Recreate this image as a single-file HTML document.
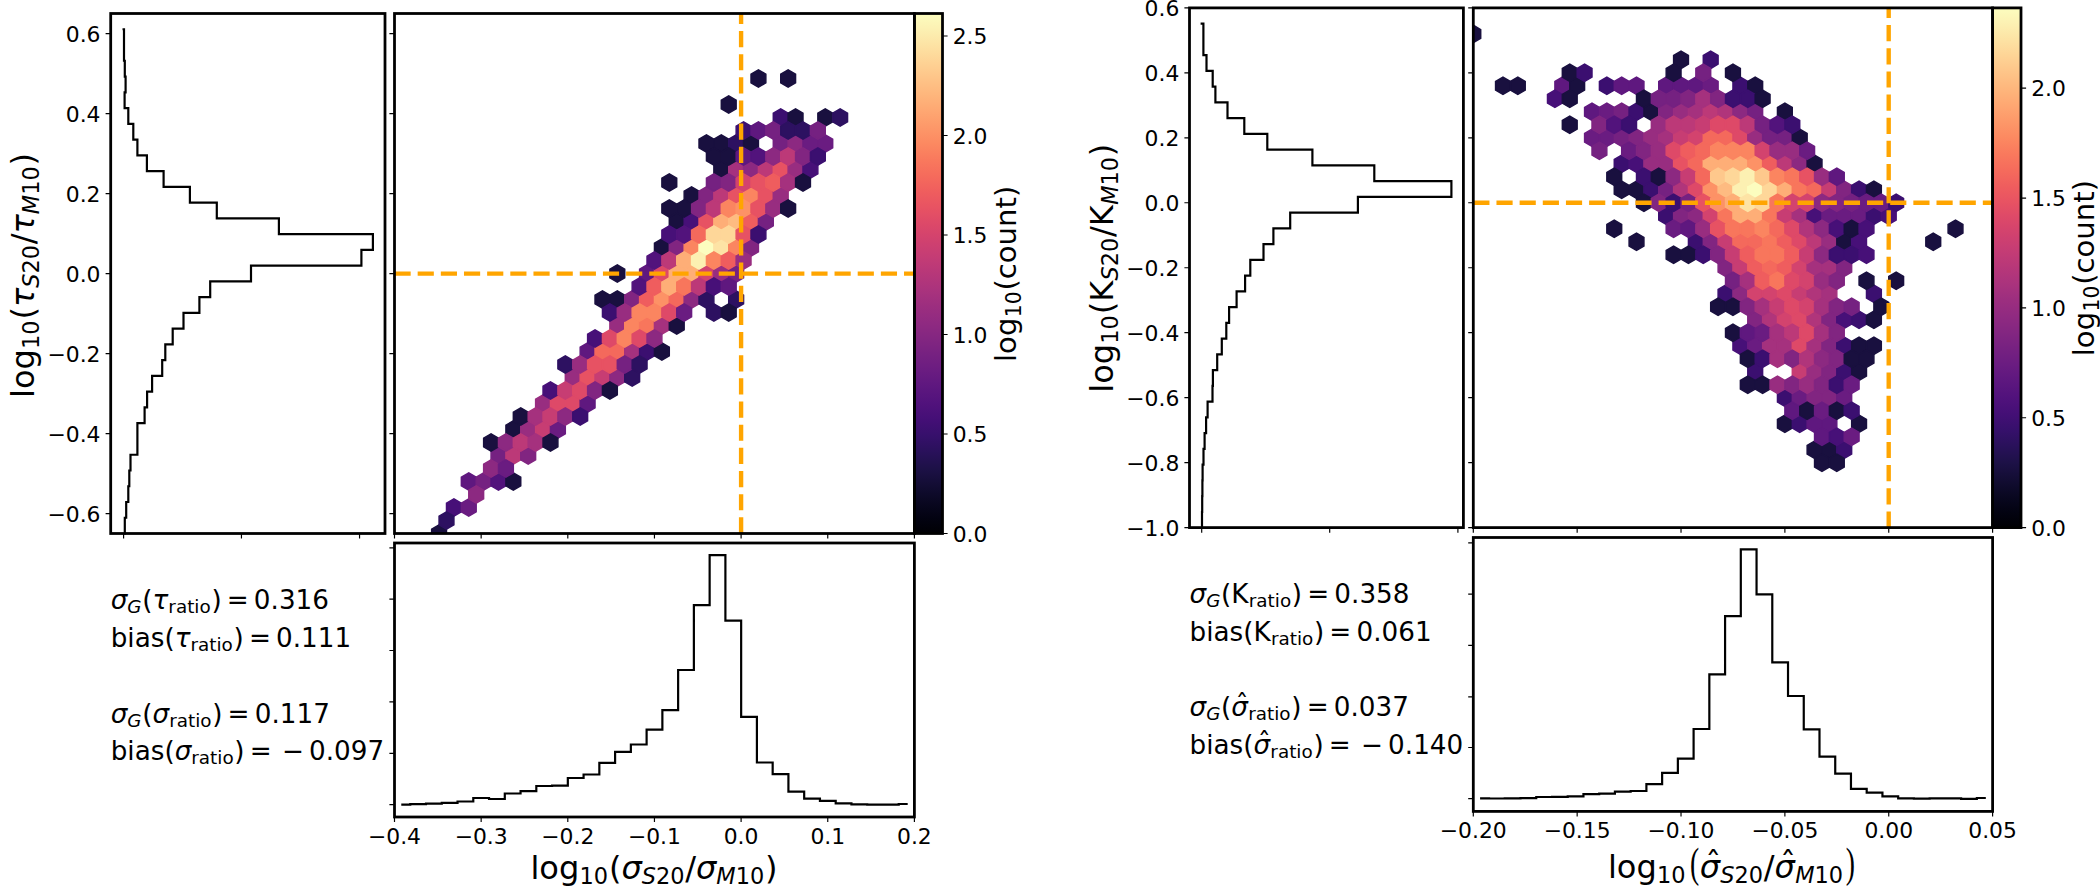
<!DOCTYPE html>
<html lang="en"><head><meta charset="utf-8"><title>Ratio comparison hexbin figure</title>
<style>html,body{margin:0;padding:0;background:#fff}body{width:2100px;height:890px;overflow:hidden}svg{display:block}</style></head>
<body>
<svg width="2100" height="890" viewBox="0 0 2100 890" font-family="'DejaVu Sans','Liberation Sans',sans-serif" fill="#000">
<defs><linearGradient id="mg" x1="0" y1="0" x2="0" y2="1"><stop offset="0.0000" stop-color="#fcfdbf"/><stop offset="0.0312" stop-color="#fcf0b2"/><stop offset="0.0625" stop-color="#fde2a3"/><stop offset="0.0938" stop-color="#fed395"/><stop offset="0.1250" stop-color="#fec488"/><stop offset="0.1562" stop-color="#feb67c"/><stop offset="0.1875" stop-color="#fea772"/><stop offset="0.2188" stop-color="#fd9869"/><stop offset="0.2500" stop-color="#fc8961"/><stop offset="0.2812" stop-color="#f9795d"/><stop offset="0.3125" stop-color="#f56b5c"/><stop offset="0.3438" stop-color="#ef5d5e"/><stop offset="0.3750" stop-color="#e75263"/><stop offset="0.4062" stop-color="#dc4869"/><stop offset="0.4375" stop-color="#d0416f"/><stop offset="0.4688" stop-color="#c43c75"/><stop offset="0.5000" stop-color="#b73779"/><stop offset="0.5312" stop-color="#aa337d"/><stop offset="0.5625" stop-color="#9c2e7f"/><stop offset="0.5938" stop-color="#902a81"/><stop offset="0.6250" stop-color="#832681"/><stop offset="0.6562" stop-color="#762181"/><stop offset="0.6875" stop-color="#6a1c81"/><stop offset="0.7188" stop-color="#5d177f"/><stop offset="0.7500" stop-color="#51127c"/><stop offset="0.7812" stop-color="#440f76"/><stop offset="0.8125" stop-color="#36106b"/><stop offset="0.8438" stop-color="#29115a"/><stop offset="0.8750" stop-color="#1d1147"/><stop offset="0.9062" stop-color="#130d34"/><stop offset="0.9375" stop-color="#0a0822"/><stop offset="0.9688" stop-color="#030312"/><stop offset="1.0000" stop-color="#000004"/></linearGradient></defs>
<rect width="2100" height="890" fill="#fff"/>
<clipPath id="c394"><rect x="394.5" y="13.5" width="519.9" height="520"/></clipPath>
<g clip-path="url(#c394)" stroke-width="1.46" stroke-linejoin="miter">
<polygon points="446.49,529.17 446.49,537.83 439.06,542.17 431.64,537.83 431.64,529.17 439.06,524.83" fill="#19103f" stroke="#19103f"/>
<polygon points="461.34,503.17 461.34,511.83 453.92,516.17 446.49,511.83 446.49,503.17 453.92,498.83" fill="#471078" stroke="#471078"/>
<polygon points="476.2,503.17 476.2,511.83 468.77,516.17 461.34,511.83 461.34,503.17 468.77,498.83" fill="#6a1c81" stroke="#6a1c81"/>
<polygon points="476.2,477.17 476.2,485.83 468.77,490.17 461.34,485.83 461.34,477.17 468.77,472.83" fill="#5f187f" stroke="#5f187f"/>
<polygon points="491.05,477.17 491.05,485.83 483.63,490.17 476.2,485.83 476.2,477.17 483.63,472.83" fill="#752181" stroke="#752181"/>
<polygon points="505.91,477.17 505.91,485.83 498.48,490.17 491.05,485.83 491.05,477.17 498.48,472.83" fill="#52137c" stroke="#52137c"/>
<polygon points="505.91,451.17 505.91,459.83 498.48,464.17 491.05,459.83 491.05,451.17 498.48,446.83" fill="#752181" stroke="#752181"/>
<polygon points="520.76,477.17 520.76,485.83 513.33,490.17 505.91,485.83 505.91,477.17 513.33,472.83" fill="#19103f" stroke="#19103f"/>
<polygon points="520.76,451.17 520.76,459.83 513.33,464.17 505.91,459.83 505.91,451.17 513.33,446.83" fill="#bc3978" stroke="#bc3978"/>
<polygon points="520.76,425.17 520.76,433.83 513.33,438.17 505.91,433.83 505.91,425.17 513.33,420.83" fill="#19103f" stroke="#19103f"/>
<polygon points="535.62,451.17 535.62,459.83 528.19,464.17 520.76,459.83 520.76,451.17 528.19,446.83" fill="#812581" stroke="#812581"/>
<polygon points="535.62,425.17 535.62,433.83 528.19,438.17 520.76,433.83 520.76,425.17 528.19,420.83" fill="#982d80" stroke="#982d80"/>
<polygon points="550.47,425.17 550.47,433.83 543.04,438.17 535.62,433.83 535.62,425.17 543.04,420.83" fill="#c73d73" stroke="#c73d73"/>
<polygon points="550.47,399.17 550.47,407.83 543.04,412.17 535.62,407.83 535.62,399.17 543.04,394.83" fill="#982d80" stroke="#982d80"/>
<polygon points="565.32,425.17 565.32,433.83 557.9,438.17 550.47,433.83 550.47,425.17 557.9,420.83" fill="#6a1c81" stroke="#6a1c81"/>
<polygon points="565.32,399.17 565.32,407.83 557.9,412.17 550.47,407.83 550.47,399.17 557.9,394.83" fill="#de4968" stroke="#de4968"/>
<polygon points="580.18,399.17 580.18,407.83 572.75,412.17 565.32,407.83 565.32,399.17 572.75,394.83" fill="#de4968" stroke="#de4968"/>
<polygon points="580.18,373.17 580.18,381.83 572.75,386.17 565.32,381.83 565.32,373.17 572.75,368.83" fill="#982d80" stroke="#982d80"/>
<polygon points="595.03,399.17 595.03,407.83 587.61,412.17 580.18,407.83 580.18,399.17 587.61,394.83" fill="#5f187f" stroke="#5f187f"/>
<polygon points="595.03,373.17 595.03,381.83 587.61,386.17 580.18,381.83 580.18,373.17 587.61,368.83" fill="#e75263" stroke="#e75263"/>
<polygon points="595.03,347.17 595.03,355.83 587.61,360.17 580.18,355.83 580.18,347.17 587.61,342.83" fill="#5f187f" stroke="#5f187f"/>
<polygon points="609.89,373.17 609.89,381.83 602.46,386.17 595.03,381.83 595.03,373.17 602.46,368.83" fill="#c73d73" stroke="#c73d73"/>
<polygon points="609.89,347.17 609.89,355.83 602.46,360.17 595.03,355.83 595.03,347.17 602.46,342.83" fill="#f4695c" stroke="#f4695c"/>
<polygon points="609.89,295.17 609.89,303.83 602.46,308.17 595.03,303.83 595.03,295.17 602.46,290.83" fill="#19103f" stroke="#19103f"/>
<polygon points="624.74,373.17 624.74,381.83 617.31,386.17 609.89,381.83 609.89,373.17 617.31,368.83" fill="#8c2981" stroke="#8c2981"/>
<polygon points="624.74,347.17 624.74,355.83 617.31,360.17 609.89,355.83 609.89,347.17 617.31,342.83" fill="#f4695c" stroke="#f4695c"/>
<polygon points="624.74,321.17 624.74,329.83 617.31,334.17 609.89,329.83 609.89,321.17 617.31,316.83" fill="#982d80" stroke="#982d80"/>
<polygon points="624.74,295.17 624.74,303.83 617.31,308.17 609.89,303.83 609.89,295.17 617.31,290.83" fill="#19103f" stroke="#19103f"/>
<polygon points="624.74,269.17 624.74,277.83 617.31,282.17 609.89,277.83 609.89,269.17 617.31,264.83" fill="#19103f" stroke="#19103f"/>
<polygon points="639.6,373.17 639.6,381.83 632.17,386.17 624.74,381.83 624.74,373.17 632.17,368.83" fill="#2d1161" stroke="#2d1161"/>
<polygon points="639.6,347.17 639.6,355.83 632.17,360.17 624.74,355.83 624.74,347.17 632.17,342.83" fill="#a5317e" stroke="#a5317e"/>
<polygon points="639.6,321.17 639.6,329.83 632.17,334.17 624.74,329.83 624.74,321.17 632.17,316.83" fill="#fb8560" stroke="#fb8560"/>
<polygon points="639.6,295.17 639.6,303.83 632.17,308.17 624.74,303.83 624.74,295.17 632.17,290.83" fill="#812581" stroke="#812581"/>
<polygon points="654.45,347.17 654.45,355.83 647.02,360.17 639.6,355.83 639.6,347.17 647.02,342.83" fill="#3b0f70" stroke="#3b0f70"/>
<polygon points="654.45,321.17 654.45,329.83 647.02,334.17 639.6,329.83 639.6,321.17 647.02,316.83" fill="#f8765c" stroke="#f8765c"/>
<polygon points="654.45,295.17 654.45,303.83 647.02,308.17 639.6,303.83 639.6,295.17 647.02,290.83" fill="#ef5d5e" stroke="#ef5d5e"/>
<polygon points="654.45,269.17 654.45,277.83 647.02,282.17 639.6,277.83 639.6,269.17 647.02,264.83" fill="#5f187f" stroke="#5f187f"/>
<polygon points="669.3,347.17 669.3,355.83 661.88,360.17 654.45,355.83 654.45,347.17 661.88,342.83" fill="#19103f" stroke="#19103f"/>
<polygon points="669.3,321.17 669.3,329.83 661.88,334.17 654.45,329.83 654.45,321.17 661.88,316.83" fill="#a5317e" stroke="#a5317e"/>
<polygon points="669.3,295.17 669.3,303.83 661.88,308.17 654.45,303.83 654.45,295.17 661.88,290.83" fill="#fd9266" stroke="#fd9266"/>
<polygon points="669.3,269.17 669.3,277.83 661.88,282.17 654.45,277.83 654.45,269.17 661.88,264.83" fill="#de4968" stroke="#de4968"/>
<polygon points="669.3,243.17 669.3,251.83 661.88,256.17 654.45,251.83 654.45,243.17 661.88,238.83" fill="#19103f" stroke="#19103f"/>
<polygon points="684.16,321.17 684.16,329.83 676.73,334.17 669.3,329.83 669.3,321.17 676.73,316.83" fill="#19103f" stroke="#19103f"/>
<polygon points="684.16,295.17 684.16,303.83 676.73,308.17 669.3,303.83 669.3,295.17 676.73,290.83" fill="#f4695c" stroke="#f4695c"/>
<polygon points="684.16,269.17 684.16,277.83 676.73,282.17 669.3,277.83 669.3,269.17 676.73,264.83" fill="#feae77" stroke="#feae77"/>
<polygon points="684.16,243.17 684.16,251.83 676.73,256.17 669.3,251.83 669.3,243.17 676.73,238.83" fill="#812581" stroke="#812581"/>
<polygon points="684.16,217.17 684.16,225.83 676.73,230.17 669.3,225.83 669.3,217.17 676.73,212.83" fill="#19103f" stroke="#19103f"/>
<polygon points="699.01,295.17 699.01,303.83 691.59,308.17 684.16,303.83 684.16,295.17 691.59,290.83" fill="#8c2981" stroke="#8c2981"/>
<polygon points="699.01,269.17 699.01,277.83 691.59,282.17 684.16,277.83 684.16,269.17 691.59,264.83" fill="#feae77" stroke="#feae77"/>
<polygon points="699.01,243.17 699.01,251.83 691.59,256.17 684.16,251.83 684.16,243.17 691.59,238.83" fill="#fb8560" stroke="#fb8560"/>
<polygon points="699.01,217.17 699.01,225.83 691.59,230.17 684.16,225.83 684.16,217.17 691.59,212.83" fill="#471078" stroke="#471078"/>
<polygon points="699.01,191.17 699.01,199.83 691.59,204.17 684.16,199.83 684.16,191.17 691.59,186.83" fill="#19103f" stroke="#19103f"/>
<polygon points="713.87,295.17 713.87,303.83 706.44,308.17 699.01,303.83 699.01,295.17 706.44,290.83" fill="#2d1161" stroke="#2d1161"/>
<polygon points="713.87,269.17 713.87,277.83 706.44,282.17 699.01,277.83 699.01,269.17 706.44,264.83" fill="#d3436e" stroke="#d3436e"/>
<polygon points="713.87,243.17 713.87,251.83 706.44,256.17 699.01,251.83 699.01,243.17 706.44,238.83" fill="#fcfdbf" stroke="#fcfdbf"/>
<polygon points="713.87,217.17 713.87,225.83 706.44,230.17 699.01,225.83 699.01,217.17 706.44,212.83" fill="#e75263" stroke="#e75263"/>
<polygon points="713.87,191.17 713.87,199.83 706.44,204.17 699.01,199.83 699.01,191.17 706.44,186.83" fill="#812581" stroke="#812581"/>
<polygon points="713.87,139.17 713.87,147.83 706.44,152.17 699.01,147.83 699.01,139.17 706.44,134.83" fill="#19103f" stroke="#19103f"/>
<polygon points="728.72,269.17 728.72,277.83 721.29,282.17 713.87,277.83 713.87,269.17 721.29,264.83" fill="#982d80" stroke="#982d80"/>
<polygon points="728.72,243.17 728.72,251.83 721.29,256.17 713.87,251.83 713.87,243.17 721.29,238.83" fill="#fde3a5" stroke="#fde3a5"/>
<polygon points="728.72,217.17 728.72,225.83 721.29,230.17 713.87,225.83 713.87,217.17 721.29,212.83" fill="#feae77" stroke="#feae77"/>
<polygon points="728.72,191.17 728.72,199.83 721.29,204.17 713.87,199.83 713.87,191.17 721.29,186.83" fill="#bc3978" stroke="#bc3978"/>
<polygon points="728.72,165.17 728.72,173.83 721.29,178.17 713.87,173.83 713.87,165.17 721.29,160.83" fill="#19103f" stroke="#19103f"/>
<polygon points="728.72,139.17 728.72,147.83 721.29,152.17 713.87,147.83 713.87,139.17 721.29,134.83" fill="#19103f" stroke="#19103f"/>
<polygon points="743.58,295.17 743.58,303.83 736.15,308.17 728.72,303.83 728.72,295.17 736.15,290.83" fill="#2d1161" stroke="#2d1161"/>
<polygon points="743.58,269.17 743.58,277.83 736.15,282.17 728.72,277.83 728.72,269.17 736.15,264.83" fill="#752181" stroke="#752181"/>
<polygon points="743.58,243.17 743.58,251.83 736.15,256.17 728.72,251.83 728.72,243.17 736.15,238.83" fill="#fb8560" stroke="#fb8560"/>
<polygon points="743.58,217.17 743.58,225.83 736.15,230.17 728.72,225.83 728.72,217.17 736.15,212.83" fill="#febb81" stroke="#febb81"/>
<polygon points="743.58,191.17 743.58,199.83 736.15,204.17 728.72,199.83 728.72,191.17 736.15,186.83" fill="#e75263" stroke="#e75263"/>
<polygon points="743.58,165.17 743.58,173.83 736.15,178.17 728.72,173.83 728.72,165.17 736.15,160.83" fill="#a5317e" stroke="#a5317e"/>
<polygon points="743.58,139.17 743.58,147.83 736.15,152.17 728.72,147.83 728.72,139.17 736.15,134.83" fill="#2d1161" stroke="#2d1161"/>
<polygon points="758.43,243.17 758.43,251.83 751,256.17 743.58,251.83 743.58,243.17 751,238.83" fill="#812581" stroke="#812581"/>
<polygon points="758.43,217.17 758.43,225.83 751,230.17 743.58,225.83 743.58,217.17 751,212.83" fill="#ef5d5e" stroke="#ef5d5e"/>
<polygon points="758.43,191.17 758.43,199.83 751,204.17 743.58,199.83 743.58,191.17 751,186.83" fill="#fb8560" stroke="#fb8560"/>
<polygon points="758.43,165.17 758.43,173.83 751,178.17 743.58,173.83 743.58,165.17 751,160.83" fill="#8c2981" stroke="#8c2981"/>
<polygon points="758.43,139.17 758.43,147.83 751,152.17 743.58,147.83 743.58,139.17 751,134.83" fill="#19103f" stroke="#19103f"/>
<polygon points="773.28,217.17 773.28,225.83 765.86,230.17 758.43,225.83 758.43,217.17 765.86,212.83" fill="#752181" stroke="#752181"/>
<polygon points="773.28,191.17 773.28,199.83 765.86,204.17 758.43,199.83 758.43,191.17 765.86,186.83" fill="#e75263" stroke="#e75263"/>
<polygon points="773.28,165.17 773.28,173.83 765.86,178.17 758.43,173.83 758.43,165.17 765.86,160.83" fill="#bc3978" stroke="#bc3978"/>
<polygon points="788.14,191.17 788.14,199.83 780.71,204.17 773.28,199.83 773.28,191.17 780.71,186.83" fill="#982d80" stroke="#982d80"/>
<polygon points="788.14,165.17 788.14,173.83 780.71,178.17 773.28,173.83 773.28,165.17 780.71,160.83" fill="#e75263" stroke="#e75263"/>
<polygon points="788.14,139.17 788.14,147.83 780.71,152.17 773.28,147.83 773.28,139.17 780.71,134.83" fill="#752181" stroke="#752181"/>
<polygon points="788.14,113.17 788.14,121.83 780.71,126.17 773.28,121.83 773.28,113.17 780.71,108.83" fill="#3b0f70" stroke="#3b0f70"/>
<polygon points="802.99,165.17 802.99,173.83 795.57,178.17 788.14,173.83 788.14,165.17 795.57,160.83" fill="#982d80" stroke="#982d80"/>
<polygon points="802.99,139.17 802.99,147.83 795.57,152.17 788.14,147.83 788.14,139.17 795.57,134.83" fill="#8c2981" stroke="#8c2981"/>
<polygon points="802.99,113.17 802.99,121.83 795.57,126.17 788.14,121.83 788.14,113.17 795.57,108.83" fill="#19103f" stroke="#19103f"/>
<polygon points="817.85,165.17 817.85,173.83 810.42,178.17 802.99,173.83 802.99,165.17 810.42,160.83" fill="#471078" stroke="#471078"/>
<polygon points="817.85,139.17 817.85,147.83 810.42,152.17 802.99,147.83 802.99,139.17 810.42,134.83" fill="#6a1c81" stroke="#6a1c81"/>
<polygon points="832.7,139.17 832.7,147.83 825.27,152.17 817.85,147.83 817.85,139.17 825.27,134.83" fill="#6a1c81" stroke="#6a1c81"/>
<polygon points="832.7,113.17 832.7,121.83 825.27,126.17 817.85,121.83 817.85,113.17 825.27,108.83" fill="#19103f" stroke="#19103f"/>
<polygon points="847.56,113.17 847.56,121.83 840.13,126.17 832.7,121.83 832.7,113.17 840.13,108.83" fill="#2d1161" stroke="#2d1161"/>
<polygon points="453.92,516.17 453.92,524.83 446.49,529.17 439.06,524.83 439.06,516.17 446.49,511.83" fill="#2d1161" stroke="#2d1161"/>
<polygon points="483.63,490.17 483.63,498.83 476.2,503.17 468.77,498.83 468.77,490.17 476.2,485.83" fill="#8c2981" stroke="#8c2981"/>
<polygon points="498.48,464.17 498.48,472.83 491.05,477.17 483.63,472.83 483.63,464.17 491.05,459.83" fill="#8c2981" stroke="#8c2981"/>
<polygon points="498.48,438.17 498.48,446.83 491.05,451.17 483.63,446.83 483.63,438.17 491.05,433.83" fill="#19103f" stroke="#19103f"/>
<polygon points="513.33,464.17 513.33,472.83 505.91,477.17 498.48,472.83 498.48,464.17 505.91,459.83" fill="#6a1c81" stroke="#6a1c81"/>
<polygon points="513.33,438.17 513.33,446.83 505.91,451.17 498.48,446.83 498.48,438.17 505.91,433.83" fill="#8c2981" stroke="#8c2981"/>
<polygon points="528.19,438.17 528.19,446.83 520.76,451.17 513.33,446.83 513.33,438.17 520.76,433.83" fill="#bc3978" stroke="#bc3978"/>
<polygon points="528.19,412.17 528.19,420.83 520.76,425.17 513.33,420.83 513.33,412.17 520.76,407.83" fill="#19103f" stroke="#19103f"/>
<polygon points="543.04,438.17 543.04,446.83 535.62,451.17 528.19,446.83 528.19,438.17 535.62,433.83" fill="#a5317e" stroke="#a5317e"/>
<polygon points="543.04,412.17 543.04,420.83 535.62,425.17 528.19,420.83 528.19,412.17 535.62,407.83" fill="#a5317e" stroke="#a5317e"/>
<polygon points="557.9,438.17 557.9,446.83 550.47,451.17 543.04,446.83 543.04,438.17 550.47,433.83" fill="#19103f" stroke="#19103f"/>
<polygon points="557.9,412.17 557.9,420.83 550.47,425.17 543.04,420.83 543.04,412.17 550.47,407.83" fill="#c73d73" stroke="#c73d73"/>
<polygon points="557.9,386.17 557.9,394.83 550.47,399.17 543.04,394.83 543.04,386.17 550.47,381.83" fill="#471078" stroke="#471078"/>
<polygon points="572.75,412.17 572.75,420.83 565.32,425.17 557.9,420.83 557.9,412.17 565.32,407.83" fill="#8c2981" stroke="#8c2981"/>
<polygon points="572.75,386.17 572.75,394.83 565.32,399.17 557.9,394.83 557.9,386.17 565.32,381.83" fill="#c73d73" stroke="#c73d73"/>
<polygon points="572.75,360.17 572.75,368.83 565.32,373.17 557.9,368.83 557.9,360.17 565.32,355.83" fill="#2d1161" stroke="#2d1161"/>
<polygon points="587.61,412.17 587.61,420.83 580.18,425.17 572.75,420.83 572.75,412.17 580.18,407.83" fill="#3b0f70" stroke="#3b0f70"/>
<polygon points="587.61,386.17 587.61,394.83 580.18,399.17 572.75,394.83 572.75,386.17 580.18,381.83" fill="#de4968" stroke="#de4968"/>
<polygon points="587.61,360.17 587.61,368.83 580.18,373.17 572.75,368.83 572.75,360.17 580.18,355.83" fill="#982d80" stroke="#982d80"/>
<polygon points="602.46,386.17 602.46,394.83 595.03,399.17 587.61,394.83 587.61,386.17 595.03,381.83" fill="#812581" stroke="#812581"/>
<polygon points="602.46,360.17 602.46,368.83 595.03,373.17 587.61,368.83 587.61,360.17 595.03,355.83" fill="#e75263" stroke="#e75263"/>
<polygon points="602.46,334.17 602.46,342.83 595.03,347.17 587.61,342.83 587.61,334.17 595.03,329.83" fill="#471078" stroke="#471078"/>
<polygon points="617.31,386.17 617.31,394.83 609.89,399.17 602.46,394.83 602.46,386.17 609.89,381.83" fill="#19103f" stroke="#19103f"/>
<polygon points="617.31,360.17 617.31,368.83 609.89,373.17 602.46,368.83 602.46,360.17 609.89,355.83" fill="#e75263" stroke="#e75263"/>
<polygon points="617.31,334.17 617.31,342.83 609.89,347.17 602.46,342.83 602.46,334.17 609.89,329.83" fill="#de4968" stroke="#de4968"/>
<polygon points="617.31,308.17 617.31,316.83 609.89,321.17 602.46,316.83 602.46,308.17 609.89,303.83" fill="#3b0f70" stroke="#3b0f70"/>
<polygon points="632.17,360.17 632.17,368.83 624.74,373.17 617.31,368.83 617.31,360.17 624.74,355.83" fill="#752181" stroke="#752181"/>
<polygon points="632.17,334.17 632.17,342.83 624.74,347.17 617.31,342.83 617.31,334.17 624.74,329.83" fill="#fb8560" stroke="#fb8560"/>
<polygon points="632.17,308.17 632.17,316.83 624.74,321.17 617.31,316.83 617.31,308.17 624.74,303.83" fill="#982d80" stroke="#982d80"/>
<polygon points="647.02,360.17 647.02,368.83 639.6,373.17 632.17,368.83 632.17,360.17 639.6,355.83" fill="#2d1161" stroke="#2d1161"/>
<polygon points="647.02,334.17 647.02,342.83 639.6,347.17 632.17,342.83 632.17,334.17 639.6,329.83" fill="#de4968" stroke="#de4968"/>
<polygon points="647.02,308.17 647.02,316.83 639.6,321.17 632.17,316.83 632.17,308.17 639.6,303.83" fill="#fb8560" stroke="#fb8560"/>
<polygon points="647.02,282.17 647.02,290.83 639.6,295.17 632.17,290.83 632.17,282.17 639.6,277.83" fill="#52137c" stroke="#52137c"/>
<polygon points="661.88,334.17 661.88,342.83 654.45,347.17 647.02,342.83 647.02,334.17 654.45,329.83" fill="#8c2981" stroke="#8c2981"/>
<polygon points="661.88,308.17 661.88,316.83 654.45,321.17 647.02,316.83 647.02,308.17 654.45,303.83" fill="#fb8560" stroke="#fb8560"/>
<polygon points="661.88,282.17 661.88,290.83 654.45,295.17 647.02,290.83 647.02,282.17 654.45,277.83" fill="#ef5d5e" stroke="#ef5d5e"/>
<polygon points="661.88,256.17 661.88,264.83 654.45,269.17 647.02,264.83 647.02,256.17 654.45,251.83" fill="#52137c" stroke="#52137c"/>
<polygon points="676.73,308.17 676.73,316.83 669.3,321.17 661.88,316.83 661.88,308.17 669.3,303.83" fill="#de4968" stroke="#de4968"/>
<polygon points="676.73,282.17 676.73,290.83 669.3,295.17 661.88,290.83 661.88,282.17 669.3,277.83" fill="#feae77" stroke="#feae77"/>
<polygon points="676.73,256.17 676.73,264.83 669.3,269.17 661.88,264.83 661.88,256.17 669.3,251.83" fill="#bc3978" stroke="#bc3978"/>
<polygon points="676.73,230.17 676.73,238.83 669.3,243.17 661.88,238.83 661.88,230.17 669.3,225.83" fill="#471078" stroke="#471078"/>
<polygon points="676.73,204.17 676.73,212.83 669.3,217.17 661.88,212.83 661.88,204.17 669.3,199.83" fill="#19103f" stroke="#19103f"/>
<polygon points="676.73,178.17 676.73,186.83 669.3,191.17 661.88,186.83 661.88,178.17 669.3,173.83" fill="#19103f" stroke="#19103f"/>
<polygon points="691.59,308.17 691.59,316.83 684.16,321.17 676.73,316.83 676.73,308.17 684.16,303.83" fill="#6a1c81" stroke="#6a1c81"/>
<polygon points="691.59,282.17 691.59,290.83 684.16,295.17 676.73,290.83 676.73,282.17 684.16,277.83" fill="#f8765c" stroke="#f8765c"/>
<polygon points="691.59,256.17 691.59,264.83 684.16,269.17 676.73,264.83 676.73,256.17 684.16,251.83" fill="#feae77" stroke="#feae77"/>
<polygon points="691.59,230.17 691.59,238.83 684.16,243.17 676.73,238.83 676.73,230.17 684.16,225.83" fill="#52137c" stroke="#52137c"/>
<polygon points="691.59,204.17 691.59,212.83 684.16,217.17 676.73,212.83 676.73,204.17 684.16,199.83" fill="#19103f" stroke="#19103f"/>
<polygon points="706.44,282.17 706.44,290.83 699.01,295.17 691.59,290.83 691.59,282.17 699.01,277.83" fill="#bc3978" stroke="#bc3978"/>
<polygon points="706.44,256.17 706.44,264.83 699.01,269.17 691.59,264.83 691.59,256.17 699.01,251.83" fill="#fcf0b2" stroke="#fcf0b2"/>
<polygon points="706.44,230.17 706.44,238.83 699.01,243.17 691.59,238.83 691.59,230.17 699.01,225.83" fill="#f4695c" stroke="#f4695c"/>
<polygon points="706.44,204.17 706.44,212.83 699.01,217.17 691.59,212.83 691.59,204.17 699.01,199.83" fill="#812581" stroke="#812581"/>
<polygon points="721.29,308.17 721.29,316.83 713.87,321.17 706.44,316.83 706.44,308.17 713.87,303.83" fill="#2d1161" stroke="#2d1161"/>
<polygon points="721.29,282.17 721.29,290.83 713.87,295.17 706.44,290.83 706.44,282.17 713.87,277.83" fill="#471078" stroke="#471078"/>
<polygon points="721.29,256.17 721.29,264.83 713.87,269.17 706.44,264.83 706.44,256.17 713.87,251.83" fill="#fb8560" stroke="#fb8560"/>
<polygon points="721.29,230.17 721.29,238.83 713.87,243.17 706.44,238.83 706.44,230.17 713.87,225.83" fill="#fed799" stroke="#fed799"/>
<polygon points="721.29,204.17 721.29,212.83 713.87,217.17 706.44,212.83 706.44,204.17 713.87,199.83" fill="#bc3978" stroke="#bc3978"/>
<polygon points="721.29,178.17 721.29,186.83 713.87,191.17 706.44,186.83 706.44,178.17 713.87,173.83" fill="#752181" stroke="#752181"/>
<polygon points="721.29,152.17 721.29,160.83 713.87,165.17 706.44,160.83 706.44,152.17 713.87,147.83" fill="#19103f" stroke="#19103f"/>
<polygon points="736.15,308.17 736.15,316.83 728.72,321.17 721.29,316.83 721.29,308.17 728.72,303.83" fill="#19103f" stroke="#19103f"/>
<polygon points="736.15,282.17 736.15,290.83 728.72,295.17 721.29,290.83 721.29,282.17 728.72,277.83" fill="#5f187f" stroke="#5f187f"/>
<polygon points="736.15,256.17 736.15,264.83 728.72,269.17 721.29,264.83 721.29,256.17 728.72,251.83" fill="#ef5d5e" stroke="#ef5d5e"/>
<polygon points="736.15,230.17 736.15,238.83 728.72,243.17 721.29,238.83 721.29,230.17 728.72,225.83" fill="#fed799" stroke="#fed799"/>
<polygon points="736.15,204.17 736.15,212.83 728.72,217.17 721.29,212.83 721.29,204.17 728.72,199.83" fill="#fb8560" stroke="#fb8560"/>
<polygon points="736.15,178.17 736.15,186.83 728.72,191.17 721.29,186.83 721.29,178.17 728.72,173.83" fill="#812581" stroke="#812581"/>
<polygon points="736.15,152.17 736.15,160.83 728.72,165.17 721.29,160.83 721.29,152.17 728.72,147.83" fill="#19103f" stroke="#19103f"/>
<polygon points="736.15,100.17 736.15,108.83 728.72,113.17 721.29,108.83 721.29,100.17 728.72,95.83" fill="#19103f" stroke="#19103f"/>
<polygon points="751,256.17 751,264.83 743.58,269.17 736.15,264.83 736.15,256.17 743.58,251.83" fill="#982d80" stroke="#982d80"/>
<polygon points="751,230.17 751,238.83 743.58,243.17 736.15,238.83 736.15,230.17 743.58,225.83" fill="#e75263" stroke="#e75263"/>
<polygon points="751,204.17 751,212.83 743.58,217.17 736.15,212.83 736.15,204.17 743.58,199.83" fill="#fd9266" stroke="#fd9266"/>
<polygon points="751,178.17 751,186.83 743.58,191.17 736.15,186.83 736.15,178.17 743.58,173.83" fill="#d3436e" stroke="#d3436e"/>
<polygon points="751,152.17 751,160.83 743.58,165.17 736.15,160.83 736.15,152.17 743.58,147.83" fill="#5f187f" stroke="#5f187f"/>
<polygon points="751,126.17 751,134.83 743.58,139.17 736.15,134.83 736.15,126.17 743.58,121.83" fill="#3b0f70" stroke="#3b0f70"/>
<polygon points="765.86,230.17 765.86,238.83 758.43,243.17 751,238.83 751,230.17 758.43,225.83" fill="#3b0f70" stroke="#3b0f70"/>
<polygon points="765.86,204.17 765.86,212.83 758.43,217.17 751,212.83 751,204.17 758.43,199.83" fill="#e75263" stroke="#e75263"/>
<polygon points="765.86,178.17 765.86,186.83 758.43,191.17 751,186.83 751,178.17 758.43,173.83" fill="#e75263" stroke="#e75263"/>
<polygon points="765.86,152.17 765.86,160.83 758.43,165.17 751,160.83 751,152.17 758.43,147.83" fill="#52137c" stroke="#52137c"/>
<polygon points="765.86,126.17 765.86,134.83 758.43,139.17 751,134.83 751,126.17 758.43,121.83" fill="#5f187f" stroke="#5f187f"/>
<polygon points="765.86,74.17 765.86,82.83 758.43,87.17 751,82.83 751,74.17 758.43,69.83" fill="#19103f" stroke="#19103f"/>
<polygon points="780.71,204.17 780.71,212.83 773.28,217.17 765.86,212.83 765.86,204.17 773.28,199.83" fill="#982d80" stroke="#982d80"/>
<polygon points="780.71,178.17 780.71,186.83 773.28,191.17 765.86,186.83 765.86,178.17 773.28,173.83" fill="#ef5d5e" stroke="#ef5d5e"/>
<polygon points="780.71,152.17 780.71,160.83 773.28,165.17 765.86,160.83 765.86,152.17 773.28,147.83" fill="#8c2981" stroke="#8c2981"/>
<polygon points="780.71,126.17 780.71,134.83 773.28,139.17 765.86,134.83 765.86,126.17 773.28,121.83" fill="#752181" stroke="#752181"/>
<polygon points="795.57,204.17 795.57,212.83 788.14,217.17 780.71,212.83 780.71,204.17 788.14,199.83" fill="#19103f" stroke="#19103f"/>
<polygon points="795.57,178.17 795.57,186.83 788.14,191.17 780.71,186.83 780.71,178.17 788.14,173.83" fill="#a5317e" stroke="#a5317e"/>
<polygon points="795.57,152.17 795.57,160.83 788.14,165.17 780.71,160.83 780.71,152.17 788.14,147.83" fill="#bc3978" stroke="#bc3978"/>
<polygon points="795.57,126.17 795.57,134.83 788.14,139.17 780.71,134.83 780.71,126.17 788.14,121.83" fill="#2d1161" stroke="#2d1161"/>
<polygon points="795.57,74.17 795.57,82.83 788.14,87.17 780.71,82.83 780.71,74.17 788.14,69.83" fill="#19103f" stroke="#19103f"/>
<polygon points="810.42,178.17 810.42,186.83 802.99,191.17 795.57,186.83 795.57,178.17 802.99,173.83" fill="#19103f" stroke="#19103f"/>
<polygon points="810.42,152.17 810.42,160.83 802.99,165.17 795.57,160.83 795.57,152.17 802.99,147.83" fill="#812581" stroke="#812581"/>
<polygon points="810.42,126.17 810.42,134.83 802.99,139.17 795.57,134.83 795.57,126.17 802.99,121.83" fill="#2d1161" stroke="#2d1161"/>
<polygon points="825.27,152.17 825.27,160.83 817.85,165.17 810.42,160.83 810.42,152.17 817.85,147.83" fill="#3b0f70" stroke="#3b0f70"/>
<polygon points="825.27,126.17 825.27,134.83 817.85,139.17 810.42,134.83 810.42,126.17 817.85,121.83" fill="#752181" stroke="#752181"/>
</g>
<path d="M394.5 273.6H914.4" stroke="#ffa500" stroke-width="4.37" stroke-dasharray="16.17 6.99" fill="none"/>
<path d="M741.1 533.5V13.5" stroke="#ffa500" stroke-width="4.37" stroke-dasharray="16.17 6.99" fill="none"/>
<rect x="914.4" y="13.5" width="28.1" height="520" fill="url(#mg)"/>
<path d="M123.6 29.26H124V45.02H124V60.77H124.8V76.53H125.6V92.29H124.6V108.05H128.3V123.81H133.3V139.56H137.4V155.32H146.9V171.08H163.6V186.84H189.9V202.6H216.8V218.35H278.9V234.11H372.9V249.87H361.4V265.63H251V281.39H210.2V297.14H199.4V312.9H183.5V328.66H172.7V344.42H165.3V360.18H162.2V375.93H152.1V391.69H147.1V407.45H144.6V423.21H137.4V438.97H137.4V454.72H130.5V470.48H129.3V486.24H128.3V502H126.2V517.76H124.8V533.51" fill="none" stroke="#000" stroke-width="2.19" stroke-linejoin="miter" stroke-linecap="square"/>
<path d="M402.38 804.7H410.26V804.2H426.01V803.6H441.77V802.9H457.53V801.5H473.28V798H489.04V799H504.8V793.5H520.56V791.2H536.31V786H552.07V785.6H567.83V778H583.58V774.5H599.34V762.8H615.1V751.8H630.86V744.5H646.61V729.7H662.37V710.2H678.13V670H693.88V605.1H709.64V555.1H725.4V620.6H741.15V716.8H756.91V762.5H772.67V774.1H788.42V791.7H804.18V798.7H819.94V800.9H835.7V803.4H851.45V804.3H867.21V804.6H882.97V804.6H898.72V804H906.6" fill="none" stroke="#000" stroke-width="2.19" stroke-linejoin="miter" stroke-linecap="square"/>
<rect x="110.7" y="13.5" width="274.3" height="520" fill="none" stroke="#000" stroke-width="2.78"/>
<rect x="394.5" y="13.5" width="519.9" height="520" fill="none" stroke="#000" stroke-width="2.78"/>
<rect x="394.5" y="543" width="519.9" height="274" fill="none" stroke="#000" stroke-width="2.78"/>
<rect x="914.4" y="13.5" width="28.1" height="520" fill="none" stroke="#000" stroke-width="2.78"/>
<path d="M110.7 33.6h-5.1M110.7 113.6h-5.1M110.7 193.6h-5.1M110.7 273.6h-5.1M110.7 353.6h-5.1M110.7 433.6h-5.1M110.7 513.6h-5.1" stroke="#000" stroke-width="1.17" fill="none"/>
<path d="M394.5 33.6h-5.1M394.5 113.6h-5.1M394.5 193.6h-5.1M394.5 273.6h-5.1M394.5 353.6h-5.1M394.5 433.6h-5.1M394.5 513.6h-5.1" stroke="#000" stroke-width="1.17" fill="none"/>
<path d="M123.6 533.5v5.1M241.45 533.5v5.1M359.55 533.5v5.1" stroke="#000" stroke-width="1.17" fill="none"/>
<path d="M394.5 533.5v5.1M481.15 533.5v5.1M567.8 533.5v5.1M654.45 533.5v5.1M741.1 533.5v5.1M827.75 533.5v5.1M914.4 533.5v5.1" stroke="#000" stroke-width="1.17" fill="none"/>
<path d="M394.5 817v5.1M481.15 817v5.1M567.8 817v5.1M654.45 817v5.1M741.1 817v5.1M827.75 817v5.1M914.4 817v5.1" stroke="#000" stroke-width="1.17" fill="none"/>
<path d="M394.5 804.6h-5.1M394.5 753.3h-5.1M394.5 701.9h-5.1M394.5 650.5h-5.1M394.5 599.2h-5.1M394.5 547.8h-5.1" stroke="#000" stroke-width="1.17" fill="none"/>
<path d="M942.5 533.5h5.1M942.5 434h5.1M942.5 334.5h5.1M942.5 235h5.1M942.5 135.5h5.1M942.5 36h5.1" stroke="#000" stroke-width="1.17" fill="none"/>
<text x="100.5" y="41.6" font-size="21.85" text-anchor="end">0.6</text>
<text x="100.5" y="121.6" font-size="21.85" text-anchor="end">0.4</text>
<text x="100.5" y="201.6" font-size="21.85" text-anchor="end">0.2</text>
<text x="100.5" y="281.6" font-size="21.85" text-anchor="end">0.0</text>
<text x="100.5" y="361.6" font-size="21.85" text-anchor="end">−0.2</text>
<text x="100.5" y="441.6" font-size="21.85" text-anchor="end">−0.4</text>
<text x="100.5" y="521.6" font-size="21.85" text-anchor="end">−0.6</text>
<text x="394.5" y="843.8" font-size="21.85" text-anchor="middle">−0.4</text>
<text x="481.15" y="843.8" font-size="21.85" text-anchor="middle">−0.3</text>
<text x="567.8" y="843.8" font-size="21.85" text-anchor="middle">−0.2</text>
<text x="654.45" y="843.8" font-size="21.85" text-anchor="middle">−0.1</text>
<text x="741.1" y="843.8" font-size="21.85" text-anchor="middle">0.0</text>
<text x="827.75" y="843.8" font-size="21.85" text-anchor="middle">0.1</text>
<text x="914.4" y="843.8" font-size="21.85" text-anchor="middle">0.2</text>
<text x="952.7" y="541.5" font-size="21.85" text-anchor="start">0.0</text>
<text x="952.7" y="442" font-size="21.85" text-anchor="start">0.5</text>
<text x="952.7" y="342.5" font-size="21.85" text-anchor="start">1.0</text>
<text x="952.7" y="243" font-size="21.85" text-anchor="start">1.5</text>
<text x="952.7" y="143.5" font-size="21.85" text-anchor="start">2.0</text>
<text x="952.7" y="44" font-size="21.85" text-anchor="start">2.5</text>
<g transform="translate(34.2,275) rotate(-90)">
<text x="-123 -114.11 -94.53" y="-0" font-size="32.05">log</text>
<text x="-73.91 -59.66" y="5.25" font-size="22.44">10</text>
<text x="-44.53" y="-0" font-size="32.05">(</text>
<text x="-32.05" y="-0" font-size="32.05" font-style="italic">τ</text>
<text x="-12.78" y="5.25" font-size="22.44" font-style="italic">S</text>
<text x="1.43 15.69" y="5.25" font-size="22.44">20</text>
<text x="30.81" y="-0" font-size="32.05">/</text>
<text x="41.59" y="-0" font-size="32.05" font-style="italic">τ</text>
<text x="60.86" y="5.25" font-size="22.44" font-style="italic">M</text>
<text x="80.19 94.44" y="5.25" font-size="22.44">10</text>
<text x="109.56" y="-0" font-size="32.05">)</text>
</g>
<g transform="translate(654.45,878.6)">
<text x="-124 -115.11 -95.53" y="-0" font-size="32.05">log</text>
<text x="-74.91 -60.66" y="5.25" font-size="22.44">10</text>
<text x="-45.53" y="-0" font-size="32.05">(</text>
<text x="-33.05" y="-0" font-size="32.05" font-style="italic">σ</text>
<text x="-12.77" y="5.25" font-size="22.44" font-style="italic">S</text>
<text x="1.45 15.7" y="5.25" font-size="22.44">20</text>
<text x="30.83" y="-0" font-size="32.05">/</text>
<text x="41.61" y="-0" font-size="32.05" font-style="italic">σ</text>
<text x="61.89" y="5.25" font-size="22.44" font-style="italic">M</text>
<text x="81.22 95.47" y="5.25" font-size="22.44">10</text>
<text x="110.6" y="-0" font-size="32.05">)</text>
</g>
<g transform="translate(1016.1,273.5) rotate(-90)">
<text x="-88.5 -80.41 -62.59" y="-0" font-size="29.14">log</text>
<text x="-43.82 -30.85" y="4.76" font-size="20.4">10</text>
<text x="-17.09 -5.73 10.29 28.11 46.57 65.02 76.44" y="-0" font-size="29.14">(count)</text>
</g>
<g transform="translate(110.7,609.1)">
<text x="0" y="-0" font-size="26.23" font-style="italic">σ</text>
<text x="16.64" y="4.27" font-size="18.36" font-style="italic">G</text>
<text x="31.59" y="-0" font-size="26.23">(</text>
<text x="41.83" y="-0" font-size="26.23" font-style="italic">τ</text>
<text x="57.63 65.19 76.45 83.65 88.76" y="4.27" font-size="18.36">ratio</text>
<text x="100.71 116.06 143.17 159.87 168.22 184.92 201.62" y="-0" font-size="26.23">)=0.316</text>
</g>
<g transform="translate(110.7,646.7)">
<text x="0 16.66 23.96 40.04 53.72" y="-0" font-size="26.23">bias(</text>
<text x="63.96" y="-0" font-size="26.23" font-style="italic">τ</text>
<text x="79.76 87.32 98.58 105.78 110.89" y="4.27" font-size="18.36">ratio</text>
<text x="122.84 138.2 165.3 182.01 190.35 207.05 223.75" y="-0" font-size="26.23">)=0.111</text>
</g>
<g transform="translate(110.7,722.5)">
<text x="0" y="-0" font-size="26.23" font-style="italic">σ</text>
<text x="16.64" y="4.27" font-size="18.36" font-style="italic">G</text>
<text x="31.59" y="-0" font-size="26.23">(</text>
<text x="41.83" y="-0" font-size="26.23" font-style="italic">σ</text>
<text x="58.46 66.02 77.28 84.48 89.59" y="4.27" font-size="18.36">ratio</text>
<text x="101.54 116.9 144.01 160.71 169.05 185.75 202.45" y="-0" font-size="26.23">)=0.117</text>
</g>
<g transform="translate(110.7,760)">
<text x="0 16.66 23.96 40.04 53.72" y="-0" font-size="26.23">bias(</text>
<text x="63.96" y="-0" font-size="26.23" font-style="italic">σ</text>
<text x="80.6 88.15 99.41 106.61 111.72" y="4.27" font-size="18.36">ratio</text>
<text x="123.67 139.03 171.25 198.36 215.06 223.41 240.11 256.81" y="-0" font-size="26.23">)=−0.097</text>
</g>
<clipPath id="c1473"><rect x="1473.3" y="7.9" width="519.3" height="519.7"/></clipPath>
<g clip-path="url(#c1473)" stroke-width="1.46" stroke-linejoin="miter">
<polygon points="1480.72,29.55 1480.72,38.22 1473.3,42.55 1465.88,38.22 1465.88,29.55 1473.3,25.22" fill="#19103f" stroke="#19103f"/>
<polygon points="1510.39,81.52 1510.39,90.19 1502.97,94.52 1495.56,90.19 1495.56,81.52 1502.97,77.19" fill="#19103f" stroke="#19103f"/>
<polygon points="1525.23,81.52 1525.23,90.19 1517.81,94.52 1510.39,90.19 1510.39,81.52 1517.81,77.19" fill="#19103f" stroke="#19103f"/>
<polygon points="1569.74,81.52 1569.74,90.19 1562.32,94.52 1554.9,90.19 1554.9,81.52 1562.32,77.19" fill="#5f187f" stroke="#5f187f"/>
<polygon points="1584.58,81.52 1584.58,90.19 1577.16,94.52 1569.74,90.19 1569.74,81.52 1577.16,77.19" fill="#19103f" stroke="#19103f"/>
<polygon points="1599.42,133.49 1599.42,142.16 1592,146.49 1584.58,142.16 1584.58,133.49 1592,129.16" fill="#6a1c81" stroke="#6a1c81"/>
<polygon points="1599.42,107.51 1599.42,116.17 1592,120.5 1584.58,116.17 1584.58,107.51 1592,103.18" fill="#5f187f" stroke="#5f187f"/>
<polygon points="1614.25,133.49 1614.25,142.16 1606.83,146.49 1599.42,142.16 1599.42,133.49 1606.83,129.16" fill="#6a1c81" stroke="#6a1c81"/>
<polygon points="1614.25,107.51 1614.25,116.17 1606.83,120.5 1599.42,116.17 1599.42,107.51 1606.83,103.18" fill="#6a1c81" stroke="#6a1c81"/>
<polygon points="1614.25,81.52 1614.25,90.19 1606.83,94.52 1599.42,90.19 1599.42,81.52 1606.83,77.19" fill="#3b0f70" stroke="#3b0f70"/>
<polygon points="1629.09,185.46 1629.09,194.13 1621.67,198.46 1614.25,194.13 1614.25,185.46 1621.67,181.13" fill="#19103f" stroke="#19103f"/>
<polygon points="1629.09,159.48 1629.09,168.14 1621.67,172.47 1614.25,168.14 1614.25,159.48 1621.67,155.15" fill="#3b0f70" stroke="#3b0f70"/>
<polygon points="1629.09,133.49 1629.09,142.16 1621.67,146.49 1614.25,142.16 1614.25,133.49 1621.67,129.16" fill="#752181" stroke="#752181"/>
<polygon points="1629.09,107.51 1629.09,116.17 1621.67,120.5 1614.25,116.17 1614.25,107.51 1621.67,103.18" fill="#752181" stroke="#752181"/>
<polygon points="1629.09,81.52 1629.09,90.19 1621.67,94.52 1614.25,90.19 1614.25,81.52 1621.67,77.19" fill="#5f187f" stroke="#5f187f"/>
<polygon points="1643.93,237.43 1643.93,246.1 1636.51,250.43 1629.09,246.1 1629.09,237.43 1636.51,233.1" fill="#19103f" stroke="#19103f"/>
<polygon points="1643.93,185.46 1643.93,194.13 1636.51,198.46 1629.09,194.13 1629.09,185.46 1636.51,181.13" fill="#19103f" stroke="#19103f"/>
<polygon points="1643.93,159.48 1643.93,168.14 1636.51,172.47 1629.09,168.14 1629.09,159.48 1636.51,155.15" fill="#471078" stroke="#471078"/>
<polygon points="1643.93,133.49 1643.93,142.16 1636.51,146.49 1629.09,142.16 1629.09,133.49 1636.51,129.16" fill="#812581" stroke="#812581"/>
<polygon points="1643.93,107.51 1643.93,116.17 1636.51,120.5 1629.09,116.17 1629.09,107.51 1636.51,103.18" fill="#3b0f70" stroke="#3b0f70"/>
<polygon points="1643.93,81.52 1643.93,90.19 1636.51,94.52 1629.09,90.19 1629.09,81.52 1636.51,77.19" fill="#5f187f" stroke="#5f187f"/>
<polygon points="1658.76,185.46 1658.76,194.13 1651.35,198.46 1643.93,194.13 1643.93,185.46 1651.35,181.13" fill="#3b0f70" stroke="#3b0f70"/>
<polygon points="1658.76,159.48 1658.76,168.14 1651.35,172.47 1643.93,168.14 1643.93,159.48 1651.35,155.15" fill="#982d80" stroke="#982d80"/>
<polygon points="1658.76,133.49 1658.76,142.16 1651.35,146.49 1643.93,142.16 1643.93,133.49 1651.35,129.16" fill="#982d80" stroke="#982d80"/>
<polygon points="1658.76,107.51 1658.76,116.17 1651.35,120.5 1643.93,116.17 1643.93,107.51 1651.35,103.18" fill="#19103f" stroke="#19103f"/>
<polygon points="1673.6,211.45 1673.6,220.11 1666.18,224.44 1658.76,220.11 1658.76,211.45 1666.18,207.12" fill="#3b0f70" stroke="#3b0f70"/>
<polygon points="1673.6,185.46 1673.6,194.13 1666.18,198.46 1658.76,194.13 1658.76,185.46 1666.18,181.13" fill="#752181" stroke="#752181"/>
<polygon points="1673.6,159.48 1673.6,168.14 1666.18,172.47 1658.76,168.14 1658.76,159.48 1666.18,155.15" fill="#982d80" stroke="#982d80"/>
<polygon points="1673.6,133.49 1673.6,142.16 1666.18,146.49 1658.76,142.16 1658.76,133.49 1666.18,129.16" fill="#a5317e" stroke="#a5317e"/>
<polygon points="1673.6,107.51 1673.6,116.17 1666.18,120.5 1658.76,116.17 1658.76,107.51 1666.18,103.18" fill="#812581" stroke="#812581"/>
<polygon points="1673.6,81.52 1673.6,90.19 1666.18,94.52 1658.76,90.19 1658.76,81.52 1666.18,77.19" fill="#5f187f" stroke="#5f187f"/>
<polygon points="1688.44,211.45 1688.44,220.11 1681.02,224.44 1673.6,220.11 1673.6,211.45 1681.02,207.12" fill="#812581" stroke="#812581"/>
<polygon points="1688.44,185.46 1688.44,194.13 1681.02,198.46 1673.6,194.13 1673.6,185.46 1681.02,181.13" fill="#b0357b" stroke="#b0357b"/>
<polygon points="1688.44,159.48 1688.44,168.14 1681.02,172.47 1673.6,168.14 1673.6,159.48 1681.02,155.15" fill="#e75263" stroke="#e75263"/>
<polygon points="1688.44,133.49 1688.44,142.16 1681.02,146.49 1673.6,142.16 1673.6,133.49 1681.02,129.16" fill="#c73d73" stroke="#c73d73"/>
<polygon points="1688.44,107.51 1688.44,116.17 1681.02,120.5 1673.6,116.17 1673.6,107.51 1681.02,103.18" fill="#982d80" stroke="#982d80"/>
<polygon points="1688.44,81.52 1688.44,90.19 1681.02,94.52 1673.6,90.19 1673.6,81.52 1681.02,77.19" fill="#5f187f" stroke="#5f187f"/>
<polygon points="1688.44,55.54 1688.44,64.2 1681.02,68.53 1673.6,64.2 1673.6,55.54 1681.02,51.21" fill="#19103f" stroke="#19103f"/>
<polygon points="1703.28,237.43 1703.28,246.1 1695.86,250.43 1688.44,246.1 1688.44,237.43 1695.86,233.1" fill="#3b0f70" stroke="#3b0f70"/>
<polygon points="1703.28,211.45 1703.28,220.11 1695.86,224.44 1688.44,220.11 1688.44,211.45 1695.86,207.12" fill="#8c2981" stroke="#8c2981"/>
<polygon points="1703.28,185.46 1703.28,194.13 1695.86,198.46 1688.44,194.13 1688.44,185.46 1695.86,181.13" fill="#de4968" stroke="#de4968"/>
<polygon points="1703.28,159.48 1703.28,168.14 1695.86,172.47 1688.44,168.14 1688.44,159.48 1695.86,155.15" fill="#f4695c" stroke="#f4695c"/>
<polygon points="1703.28,133.49 1703.28,142.16 1695.86,146.49 1688.44,142.16 1688.44,133.49 1695.86,129.16" fill="#d3436e" stroke="#d3436e"/>
<polygon points="1703.28,107.51 1703.28,116.17 1695.86,120.5 1688.44,116.17 1688.44,107.51 1695.86,103.18" fill="#a5317e" stroke="#a5317e"/>
<polygon points="1703.28,81.52 1703.28,90.19 1695.86,94.52 1688.44,90.19 1688.44,81.52 1695.86,77.19" fill="#5f187f" stroke="#5f187f"/>
<polygon points="1718.11,237.43 1718.11,246.1 1710.69,250.43 1703.28,246.1 1703.28,237.43 1710.69,233.1" fill="#812581" stroke="#812581"/>
<polygon points="1718.11,211.45 1718.11,220.11 1710.69,224.44 1703.28,220.11 1703.28,211.45 1710.69,207.12" fill="#d3436e" stroke="#d3436e"/>
<polygon points="1718.11,185.46 1718.11,194.13 1710.69,198.46 1703.28,194.13 1703.28,185.46 1710.69,181.13" fill="#fd9266" stroke="#fd9266"/>
<polygon points="1718.11,159.48 1718.11,168.14 1710.69,172.47 1703.28,168.14 1703.28,159.48 1710.69,155.15" fill="#feae77" stroke="#feae77"/>
<polygon points="1718.11,133.49 1718.11,142.16 1710.69,146.49 1703.28,142.16 1703.28,133.49 1710.69,129.16" fill="#f4695c" stroke="#f4695c"/>
<polygon points="1718.11,107.51 1718.11,116.17 1710.69,120.5 1703.28,116.17 1703.28,107.51 1710.69,103.18" fill="#bc3978" stroke="#bc3978"/>
<polygon points="1718.11,81.52 1718.11,90.19 1710.69,94.52 1703.28,90.19 1703.28,81.52 1710.69,77.19" fill="#6a1c81" stroke="#6a1c81"/>
<polygon points="1718.11,55.54 1718.11,64.2 1710.69,68.53 1703.28,64.2 1703.28,55.54 1710.69,51.21" fill="#3b0f70" stroke="#3b0f70"/>
<polygon points="1732.95,289.4 1732.95,298.07 1725.53,302.4 1718.11,298.07 1718.11,289.4 1725.53,285.07" fill="#3b0f70" stroke="#3b0f70"/>
<polygon points="1732.95,263.42 1732.95,272.08 1725.53,276.41 1718.11,272.08 1718.11,263.42 1725.53,259.09" fill="#812581" stroke="#812581"/>
<polygon points="1732.95,237.43 1732.95,246.1 1725.53,250.43 1718.11,246.1 1718.11,237.43 1725.53,233.1" fill="#c73d73" stroke="#c73d73"/>
<polygon points="1732.95,211.45 1732.95,220.11 1725.53,224.44 1718.11,220.11 1718.11,211.45 1725.53,207.12" fill="#f8765c" stroke="#f8765c"/>
<polygon points="1732.95,185.46 1732.95,194.13 1725.53,198.46 1718.11,194.13 1718.11,185.46 1725.53,181.13" fill="#febb81" stroke="#febb81"/>
<polygon points="1732.95,159.48 1732.95,168.14 1725.53,172.47 1718.11,168.14 1718.11,159.48 1725.53,155.15" fill="#feae77" stroke="#feae77"/>
<polygon points="1732.95,133.49 1732.95,142.16 1725.53,146.49 1718.11,142.16 1718.11,133.49 1725.53,129.16" fill="#f4695c" stroke="#f4695c"/>
<polygon points="1732.95,107.51 1732.95,116.17 1725.53,120.5 1718.11,116.17 1718.11,107.51 1725.53,103.18" fill="#b0357b" stroke="#b0357b"/>
<polygon points="1747.79,341.37 1747.79,350.04 1740.37,354.37 1732.95,350.04 1732.95,341.37 1740.37,337.04" fill="#471078" stroke="#471078"/>
<polygon points="1747.79,289.4 1747.79,298.07 1740.37,302.4 1732.95,298.07 1732.95,289.4 1740.37,285.07" fill="#8c2981" stroke="#8c2981"/>
<polygon points="1747.79,263.42 1747.79,272.08 1740.37,276.41 1732.95,272.08 1732.95,263.42 1740.37,259.09" fill="#c73d73" stroke="#c73d73"/>
<polygon points="1747.79,237.43 1747.79,246.1 1740.37,250.43 1732.95,246.1 1732.95,237.43 1740.37,233.1" fill="#f4695c" stroke="#f4695c"/>
<polygon points="1747.79,211.45 1747.79,220.11 1740.37,224.44 1732.95,220.11 1732.95,211.45 1740.37,207.12" fill="#feae77" stroke="#feae77"/>
<polygon points="1747.79,185.46 1747.79,194.13 1740.37,198.46 1732.95,194.13 1732.95,185.46 1740.37,181.13" fill="#fcf0b2" stroke="#fcf0b2"/>
<polygon points="1747.79,159.48 1747.79,168.14 1740.37,172.47 1732.95,168.14 1732.95,159.48 1740.37,155.15" fill="#feae77" stroke="#feae77"/>
<polygon points="1747.79,133.49 1747.79,142.16 1740.37,146.49 1732.95,142.16 1732.95,133.49 1740.37,129.16" fill="#de4968" stroke="#de4968"/>
<polygon points="1747.79,107.51 1747.79,116.17 1740.37,120.5 1732.95,116.17 1732.95,107.51 1740.37,103.18" fill="#8c2981" stroke="#8c2981"/>
<polygon points="1747.79,81.52 1747.79,90.19 1740.37,94.52 1732.95,90.19 1732.95,81.52 1740.37,77.19" fill="#3b0f70" stroke="#3b0f70"/>
<polygon points="1762.62,367.36 1762.62,376.02 1755.21,380.35 1747.79,376.02 1747.79,367.36 1755.21,363.03" fill="#3b0f70" stroke="#3b0f70"/>
<polygon points="1762.62,341.37 1762.62,350.04 1755.21,354.37 1747.79,350.04 1747.79,341.37 1755.21,337.04" fill="#6a1c81" stroke="#6a1c81"/>
<polygon points="1762.62,315.39 1762.62,324.05 1755.21,328.38 1747.79,324.05 1747.79,315.39 1755.21,311.06" fill="#812581" stroke="#812581"/>
<polygon points="1762.62,289.4 1762.62,298.07 1755.21,302.4 1747.79,298.07 1747.79,289.4 1755.21,285.07" fill="#d3436e" stroke="#d3436e"/>
<polygon points="1762.62,263.42 1762.62,272.08 1755.21,276.41 1747.79,272.08 1747.79,263.42 1755.21,259.09" fill="#ef5d5e" stroke="#ef5d5e"/>
<polygon points="1762.62,237.43 1762.62,246.1 1755.21,250.43 1747.79,246.1 1747.79,237.43 1755.21,233.1" fill="#f4695c" stroke="#f4695c"/>
<polygon points="1762.62,211.45 1762.62,220.11 1755.21,224.44 1747.79,220.11 1747.79,211.45 1755.21,207.12" fill="#feae77" stroke="#feae77"/>
<polygon points="1762.62,185.46 1762.62,194.13 1755.21,198.46 1747.79,194.13 1747.79,185.46 1755.21,181.13" fill="#fcfdbf" stroke="#fcfdbf"/>
<polygon points="1762.62,159.48 1762.62,168.14 1755.21,172.47 1747.79,168.14 1747.79,159.48 1755.21,155.15" fill="#fd9266" stroke="#fd9266"/>
<polygon points="1762.62,133.49 1762.62,142.16 1755.21,146.49 1747.79,142.16 1747.79,133.49 1755.21,129.16" fill="#982d80" stroke="#982d80"/>
<polygon points="1762.62,107.51 1762.62,116.17 1755.21,120.5 1747.79,116.17 1747.79,107.51 1755.21,103.18" fill="#752181" stroke="#752181"/>
<polygon points="1762.62,81.52 1762.62,90.19 1755.21,94.52 1747.79,90.19 1747.79,81.52 1755.21,77.19" fill="#19103f" stroke="#19103f"/>
<polygon points="1777.46,341.37 1777.46,350.04 1770.04,354.37 1762.62,350.04 1762.62,341.37 1770.04,337.04" fill="#a5317e" stroke="#a5317e"/>
<polygon points="1777.46,315.39 1777.46,324.05 1770.04,328.38 1762.62,324.05 1762.62,315.39 1770.04,311.06" fill="#b0357b" stroke="#b0357b"/>
<polygon points="1777.46,289.4 1777.46,298.07 1770.04,302.4 1762.62,298.07 1762.62,289.4 1770.04,285.07" fill="#d3436e" stroke="#d3436e"/>
<polygon points="1777.46,263.42 1777.46,272.08 1770.04,276.41 1762.62,272.08 1762.62,263.42 1770.04,259.09" fill="#f4695c" stroke="#f4695c"/>
<polygon points="1777.46,237.43 1777.46,246.1 1770.04,250.43 1762.62,246.1 1762.62,237.43 1770.04,233.1" fill="#f8765c" stroke="#f8765c"/>
<polygon points="1777.46,211.45 1777.46,220.11 1770.04,224.44 1762.62,220.11 1762.62,211.45 1770.04,207.12" fill="#f8765c" stroke="#f8765c"/>
<polygon points="1777.46,185.46 1777.46,194.13 1770.04,198.46 1762.62,194.13 1762.62,185.46 1770.04,181.13" fill="#fed799" stroke="#fed799"/>
<polygon points="1777.46,159.48 1777.46,168.14 1770.04,172.47 1762.62,168.14 1762.62,159.48 1770.04,155.15" fill="#ef5d5e" stroke="#ef5d5e"/>
<polygon points="1777.46,133.49 1777.46,142.16 1770.04,146.49 1762.62,142.16 1762.62,133.49 1770.04,129.16" fill="#752181" stroke="#752181"/>
<polygon points="1792.3,419.33 1792.3,427.99 1784.88,432.32 1777.46,427.99 1777.46,419.33 1784.88,415" fill="#19103f" stroke="#19103f"/>
<polygon points="1792.3,393.34 1792.3,402.01 1784.88,406.34 1777.46,402.01 1777.46,393.34 1784.88,389.01" fill="#3b0f70" stroke="#3b0f70"/>
<polygon points="1792.3,341.37 1792.3,350.04 1784.88,354.37 1777.46,350.04 1777.46,341.37 1784.88,337.04" fill="#a5317e" stroke="#a5317e"/>
<polygon points="1792.3,315.39 1792.3,324.05 1784.88,328.38 1777.46,324.05 1777.46,315.39 1784.88,311.06" fill="#d3436e" stroke="#d3436e"/>
<polygon points="1792.3,289.4 1792.3,298.07 1784.88,302.4 1777.46,298.07 1777.46,289.4 1784.88,285.07" fill="#de4968" stroke="#de4968"/>
<polygon points="1792.3,263.42 1792.3,272.08 1784.88,276.41 1777.46,272.08 1777.46,263.42 1784.88,259.09" fill="#ef5d5e" stroke="#ef5d5e"/>
<polygon points="1792.3,237.43 1792.3,246.1 1784.88,250.43 1777.46,246.1 1777.46,237.43 1784.88,233.1" fill="#ef5d5e" stroke="#ef5d5e"/>
<polygon points="1792.3,211.45 1792.3,220.11 1784.88,224.44 1777.46,220.11 1777.46,211.45 1784.88,207.12" fill="#c73d73" stroke="#c73d73"/>
<polygon points="1792.3,185.46 1792.3,194.13 1784.88,198.46 1777.46,194.13 1777.46,185.46 1784.88,181.13" fill="#feae77" stroke="#feae77"/>
<polygon points="1792.3,159.48 1792.3,168.14 1784.88,172.47 1777.46,168.14 1777.46,159.48 1784.88,155.15" fill="#bc3978" stroke="#bc3978"/>
<polygon points="1792.3,133.49 1792.3,142.16 1784.88,146.49 1777.46,142.16 1777.46,133.49 1784.88,129.16" fill="#752181" stroke="#752181"/>
<polygon points="1792.3,107.51 1792.3,116.17 1784.88,120.5 1777.46,116.17 1777.46,107.51 1784.88,103.18" fill="#19103f" stroke="#19103f"/>
<polygon points="1807.14,419.33 1807.14,427.99 1799.72,432.32 1792.3,427.99 1792.3,419.33 1799.72,415" fill="#3b0f70" stroke="#3b0f70"/>
<polygon points="1807.14,393.34 1807.14,402.01 1799.72,406.34 1792.3,402.01 1792.3,393.34 1799.72,389.01" fill="#6a1c81" stroke="#6a1c81"/>
<polygon points="1807.14,367.36 1807.14,376.02 1799.72,380.35 1792.3,376.02 1792.3,367.36 1799.72,363.03" fill="#c73d73" stroke="#c73d73"/>
<polygon points="1807.14,341.37 1807.14,350.04 1799.72,354.37 1792.3,350.04 1792.3,341.37 1799.72,337.04" fill="#de4968" stroke="#de4968"/>
<polygon points="1807.14,315.39 1807.14,324.05 1799.72,328.38 1792.3,324.05 1792.3,315.39 1799.72,311.06" fill="#de4968" stroke="#de4968"/>
<polygon points="1807.14,289.4 1807.14,298.07 1799.72,302.4 1792.3,298.07 1792.3,289.4 1799.72,285.07" fill="#c73d73" stroke="#c73d73"/>
<polygon points="1807.14,263.42 1807.14,272.08 1799.72,276.41 1792.3,272.08 1792.3,263.42 1799.72,259.09" fill="#d3436e" stroke="#d3436e"/>
<polygon points="1807.14,237.43 1807.14,246.1 1799.72,250.43 1792.3,246.1 1792.3,237.43 1799.72,233.1" fill="#de4968" stroke="#de4968"/>
<polygon points="1807.14,211.45 1807.14,220.11 1799.72,224.44 1792.3,220.11 1792.3,211.45 1799.72,207.12" fill="#a5317e" stroke="#a5317e"/>
<polygon points="1807.14,185.46 1807.14,194.13 1799.72,198.46 1792.3,194.13 1792.3,185.46 1799.72,181.13" fill="#f8765c" stroke="#f8765c"/>
<polygon points="1807.14,159.48 1807.14,168.14 1799.72,172.47 1792.3,168.14 1792.3,159.48 1799.72,155.15" fill="#8c2981" stroke="#8c2981"/>
<polygon points="1807.14,133.49 1807.14,142.16 1799.72,146.49 1792.3,142.16 1792.3,133.49 1799.72,129.16" fill="#19103f" stroke="#19103f"/>
<polygon points="1821.97,445.31 1821.97,453.98 1814.55,458.31 1807.14,453.98 1807.14,445.31 1814.55,440.98" fill="#19103f" stroke="#19103f"/>
<polygon points="1821.97,419.33 1821.97,427.99 1814.55,432.32 1807.14,427.99 1807.14,419.33 1814.55,415" fill="#5f187f" stroke="#5f187f"/>
<polygon points="1821.97,393.34 1821.97,402.01 1814.55,406.34 1807.14,402.01 1807.14,393.34 1814.55,389.01" fill="#812581" stroke="#812581"/>
<polygon points="1821.97,367.36 1821.97,376.02 1814.55,380.35 1807.14,376.02 1807.14,367.36 1814.55,363.03" fill="#982d80" stroke="#982d80"/>
<polygon points="1821.97,341.37 1821.97,350.04 1814.55,354.37 1807.14,350.04 1807.14,341.37 1814.55,337.04" fill="#a5317e" stroke="#a5317e"/>
<polygon points="1821.97,315.39 1821.97,324.05 1814.55,328.38 1807.14,324.05 1807.14,315.39 1814.55,311.06" fill="#b0357b" stroke="#b0357b"/>
<polygon points="1821.97,289.4 1821.97,298.07 1814.55,302.4 1807.14,298.07 1807.14,289.4 1814.55,285.07" fill="#b0357b" stroke="#b0357b"/>
<polygon points="1821.97,263.42 1821.97,272.08 1814.55,276.41 1807.14,272.08 1807.14,263.42 1814.55,259.09" fill="#a5317e" stroke="#a5317e"/>
<polygon points="1821.97,237.43 1821.97,246.1 1814.55,250.43 1807.14,246.1 1807.14,237.43 1814.55,233.1" fill="#bc3978" stroke="#bc3978"/>
<polygon points="1821.97,211.45 1821.97,220.11 1814.55,224.44 1807.14,220.11 1807.14,211.45 1814.55,207.12" fill="#471078" stroke="#471078"/>
<polygon points="1821.97,185.46 1821.97,194.13 1814.55,198.46 1807.14,194.13 1807.14,185.46 1814.55,181.13" fill="#f4695c" stroke="#f4695c"/>
<polygon points="1821.97,159.48 1821.97,168.14 1814.55,172.47 1807.14,168.14 1807.14,159.48 1814.55,155.15" fill="#19103f" stroke="#19103f"/>
<polygon points="1836.81,445.31 1836.81,453.98 1829.39,458.31 1821.97,453.98 1821.97,445.31 1829.39,440.98" fill="#19103f" stroke="#19103f"/>
<polygon points="1836.81,419.33 1836.81,427.99 1829.39,432.32 1821.97,427.99 1821.97,419.33 1829.39,415" fill="#5f187f" stroke="#5f187f"/>
<polygon points="1836.81,393.34 1836.81,402.01 1829.39,406.34 1821.97,402.01 1821.97,393.34 1829.39,389.01" fill="#812581" stroke="#812581"/>
<polygon points="1836.81,367.36 1836.81,376.02 1829.39,380.35 1821.97,376.02 1821.97,367.36 1829.39,363.03" fill="#812581" stroke="#812581"/>
<polygon points="1836.81,341.37 1836.81,350.04 1829.39,354.37 1821.97,350.04 1821.97,341.37 1829.39,337.04" fill="#812581" stroke="#812581"/>
<polygon points="1836.81,315.39 1836.81,324.05 1829.39,328.38 1821.97,324.05 1821.97,315.39 1829.39,311.06" fill="#812581" stroke="#812581"/>
<polygon points="1836.81,289.4 1836.81,298.07 1829.39,302.4 1821.97,298.07 1821.97,289.4 1829.39,285.07" fill="#a5317e" stroke="#a5317e"/>
<polygon points="1836.81,263.42 1836.81,272.08 1829.39,276.41 1821.97,272.08 1821.97,263.42 1829.39,259.09" fill="#a5317e" stroke="#a5317e"/>
<polygon points="1836.81,237.43 1836.81,246.1 1829.39,250.43 1821.97,246.1 1821.97,237.43 1829.39,233.1" fill="#982d80" stroke="#982d80"/>
<polygon points="1836.81,211.45 1836.81,220.11 1829.39,224.44 1821.97,220.11 1821.97,211.45 1829.39,207.12" fill="#6a1c81" stroke="#6a1c81"/>
<polygon points="1836.81,185.46 1836.81,194.13 1829.39,198.46 1821.97,194.13 1821.97,185.46 1829.39,181.13" fill="#c73d73" stroke="#c73d73"/>
<polygon points="1851.65,445.31 1851.65,453.98 1844.23,458.31 1836.81,453.98 1836.81,445.31 1844.23,440.98" fill="#3b0f70" stroke="#3b0f70"/>
<polygon points="1851.65,393.34 1851.65,402.01 1844.23,406.34 1836.81,402.01 1836.81,393.34 1844.23,389.01" fill="#6a1c81" stroke="#6a1c81"/>
<polygon points="1851.65,367.36 1851.65,376.02 1844.23,380.35 1836.81,376.02 1836.81,367.36 1844.23,363.03" fill="#3b0f70" stroke="#3b0f70"/>
<polygon points="1851.65,341.37 1851.65,350.04 1844.23,354.37 1836.81,350.04 1836.81,341.37 1844.23,337.04" fill="#3b0f70" stroke="#3b0f70"/>
<polygon points="1851.65,315.39 1851.65,324.05 1844.23,328.38 1836.81,324.05 1836.81,315.39 1844.23,311.06" fill="#471078" stroke="#471078"/>
<polygon points="1851.65,263.42 1851.65,272.08 1844.23,276.41 1836.81,272.08 1836.81,263.42 1844.23,259.09" fill="#812581" stroke="#812581"/>
<polygon points="1851.65,237.43 1851.65,246.1 1844.23,250.43 1836.81,246.1 1836.81,237.43 1844.23,233.1" fill="#19103f" stroke="#19103f"/>
<polygon points="1851.65,211.45 1851.65,220.11 1844.23,224.44 1836.81,220.11 1836.81,211.45 1844.23,207.12" fill="#6a1c81" stroke="#6a1c81"/>
<polygon points="1851.65,185.46 1851.65,194.13 1844.23,198.46 1836.81,194.13 1836.81,185.46 1844.23,181.13" fill="#812581" stroke="#812581"/>
<polygon points="1866.48,419.33 1866.48,427.99 1859.07,432.32 1851.65,427.99 1851.65,419.33 1859.07,415" fill="#19103f" stroke="#19103f"/>
<polygon points="1866.48,367.36 1866.48,376.02 1859.07,380.35 1851.65,376.02 1851.65,367.36 1859.07,363.03" fill="#19103f" stroke="#19103f"/>
<polygon points="1866.48,341.37 1866.48,350.04 1859.07,354.37 1851.65,350.04 1851.65,341.37 1859.07,337.04" fill="#19103f" stroke="#19103f"/>
<polygon points="1866.48,315.39 1866.48,324.05 1859.07,328.38 1851.65,324.05 1851.65,315.39 1859.07,311.06" fill="#3b0f70" stroke="#3b0f70"/>
<polygon points="1866.48,237.43 1866.48,246.1 1859.07,250.43 1851.65,246.1 1851.65,237.43 1859.07,233.1" fill="#471078" stroke="#471078"/>
<polygon points="1866.48,211.45 1866.48,220.11 1859.07,224.44 1851.65,220.11 1851.65,211.45 1859.07,207.12" fill="#6a1c81" stroke="#6a1c81"/>
<polygon points="1866.48,185.46 1866.48,194.13 1859.07,198.46 1851.65,194.13 1851.65,185.46 1859.07,181.13" fill="#3b0f70" stroke="#3b0f70"/>
<polygon points="1881.32,341.37 1881.32,350.04 1873.9,354.37 1866.48,350.04 1866.48,341.37 1873.9,337.04" fill="#19103f" stroke="#19103f"/>
<polygon points="1881.32,315.39 1881.32,324.05 1873.9,328.38 1866.48,324.05 1866.48,315.39 1873.9,311.06" fill="#19103f" stroke="#19103f"/>
<polygon points="1881.32,289.4 1881.32,298.07 1873.9,302.4 1866.48,298.07 1866.48,289.4 1873.9,285.07" fill="#3b0f70" stroke="#3b0f70"/>
<polygon points="1881.32,211.45 1881.32,220.11 1873.9,224.44 1866.48,220.11 1866.48,211.45 1873.9,207.12" fill="#3b0f70" stroke="#3b0f70"/>
<polygon points="1881.32,185.46 1881.32,194.13 1873.9,198.46 1866.48,194.13 1866.48,185.46 1873.9,181.13" fill="#19103f" stroke="#19103f"/>
<polygon points="1896.16,211.45 1896.16,220.11 1888.74,224.44 1881.32,220.11 1881.32,211.45 1888.74,207.12" fill="#471078" stroke="#471078"/>
<polygon points="1940.67,237.43 1940.67,246.1 1933.25,250.43 1925.83,246.1 1925.83,237.43 1933.25,233.1" fill="#19103f" stroke="#19103f"/>
<polygon points="1562.32,94.52 1562.32,103.18 1554.9,107.51 1547.49,103.18 1547.49,94.52 1554.9,90.19" fill="#471078" stroke="#471078"/>
<polygon points="1577.16,120.5 1577.16,129.16 1569.74,133.49 1562.32,129.16 1562.32,120.5 1569.74,116.17" fill="#19103f" stroke="#19103f"/>
<polygon points="1577.16,94.52 1577.16,103.18 1569.74,107.51 1562.32,103.18 1562.32,94.52 1569.74,90.19" fill="#19103f" stroke="#19103f"/>
<polygon points="1577.16,68.53 1577.16,77.19 1569.74,81.52 1562.32,77.19 1562.32,68.53 1569.74,64.2" fill="#19103f" stroke="#19103f"/>
<polygon points="1592,68.53 1592,77.19 1584.58,81.52 1577.16,77.19 1577.16,68.53 1584.58,64.2" fill="#3b0f70" stroke="#3b0f70"/>
<polygon points="1606.83,146.49 1606.83,155.15 1599.42,159.48 1592,155.15 1592,146.49 1599.42,142.16" fill="#752181" stroke="#752181"/>
<polygon points="1606.83,120.5 1606.83,129.16 1599.42,133.49 1592,129.16 1592,120.5 1599.42,116.17" fill="#812581" stroke="#812581"/>
<polygon points="1621.67,224.44 1621.67,233.1 1614.25,237.43 1606.83,233.1 1606.83,224.44 1614.25,220.11" fill="#19103f" stroke="#19103f"/>
<polygon points="1621.67,172.47 1621.67,181.13 1614.25,185.46 1606.83,181.13 1606.83,172.47 1614.25,168.14" fill="#19103f" stroke="#19103f"/>
<polygon points="1621.67,120.5 1621.67,129.16 1614.25,133.49 1606.83,129.16 1606.83,120.5 1614.25,116.17" fill="#52137c" stroke="#52137c"/>
<polygon points="1636.51,146.49 1636.51,155.15 1629.09,159.48 1621.67,155.15 1621.67,146.49 1629.09,142.16" fill="#6a1c81" stroke="#6a1c81"/>
<polygon points="1636.51,120.5 1636.51,129.16 1629.09,133.49 1621.67,129.16 1621.67,120.5 1629.09,116.17" fill="#3b0f70" stroke="#3b0f70"/>
<polygon points="1651.35,198.46 1651.35,207.12 1643.93,211.45 1636.51,207.12 1636.51,198.46 1643.93,194.13" fill="#19103f" stroke="#19103f"/>
<polygon points="1651.35,172.47 1651.35,181.13 1643.93,185.46 1636.51,181.13 1636.51,172.47 1643.93,168.14" fill="#3b0f70" stroke="#3b0f70"/>
<polygon points="1651.35,146.49 1651.35,155.15 1643.93,159.48 1636.51,155.15 1636.51,146.49 1643.93,142.16" fill="#812581" stroke="#812581"/>
<polygon points="1651.35,94.52 1651.35,103.18 1643.93,107.51 1636.51,103.18 1636.51,94.52 1643.93,90.19" fill="#19103f" stroke="#19103f"/>
<polygon points="1666.18,198.46 1666.18,207.12 1658.76,211.45 1651.35,207.12 1651.35,198.46 1658.76,194.13" fill="#812581" stroke="#812581"/>
<polygon points="1666.18,172.47 1666.18,181.13 1658.76,185.46 1651.35,181.13 1651.35,172.47 1658.76,168.14" fill="#19103f" stroke="#19103f"/>
<polygon points="1666.18,146.49 1666.18,155.15 1658.76,159.48 1651.35,155.15 1651.35,146.49 1658.76,142.16" fill="#982d80" stroke="#982d80"/>
<polygon points="1666.18,120.5 1666.18,129.16 1658.76,133.49 1651.35,129.16 1651.35,120.5 1658.76,116.17" fill="#982d80" stroke="#982d80"/>
<polygon points="1666.18,94.52 1666.18,103.18 1658.76,107.51 1651.35,103.18 1651.35,94.52 1658.76,90.19" fill="#752181" stroke="#752181"/>
<polygon points="1681.02,250.43 1681.02,259.09 1673.6,263.42 1666.18,259.09 1666.18,250.43 1673.6,246.1" fill="#19103f" stroke="#19103f"/>
<polygon points="1681.02,224.44 1681.02,233.1 1673.6,237.43 1666.18,233.1 1666.18,224.44 1673.6,220.11" fill="#6a1c81" stroke="#6a1c81"/>
<polygon points="1681.02,198.46 1681.02,207.12 1673.6,211.45 1666.18,207.12 1666.18,198.46 1673.6,194.13" fill="#3b0f70" stroke="#3b0f70"/>
<polygon points="1681.02,172.47 1681.02,181.13 1673.6,185.46 1666.18,181.13 1666.18,172.47 1673.6,168.14" fill="#8c2981" stroke="#8c2981"/>
<polygon points="1681.02,146.49 1681.02,155.15 1673.6,159.48 1666.18,155.15 1666.18,146.49 1673.6,142.16" fill="#de4968" stroke="#de4968"/>
<polygon points="1681.02,120.5 1681.02,129.16 1673.6,133.49 1666.18,129.16 1666.18,120.5 1673.6,116.17" fill="#bc3978" stroke="#bc3978"/>
<polygon points="1681.02,94.52 1681.02,103.18 1673.6,107.51 1666.18,103.18 1666.18,94.52 1673.6,90.19" fill="#752181" stroke="#752181"/>
<polygon points="1681.02,68.53 1681.02,77.19 1673.6,81.52 1666.18,77.19 1666.18,68.53 1673.6,64.2" fill="#19103f" stroke="#19103f"/>
<polygon points="1695.86,250.43 1695.86,259.09 1688.44,263.42 1681.02,259.09 1681.02,250.43 1688.44,246.1" fill="#19103f" stroke="#19103f"/>
<polygon points="1695.86,224.44 1695.86,233.1 1688.44,237.43 1681.02,233.1 1681.02,224.44 1688.44,220.11" fill="#5f187f" stroke="#5f187f"/>
<polygon points="1695.86,198.46 1695.86,207.12 1688.44,211.45 1681.02,207.12 1681.02,198.46 1688.44,194.13" fill="#752181" stroke="#752181"/>
<polygon points="1695.86,172.47 1695.86,181.13 1688.44,185.46 1681.02,181.13 1681.02,172.47 1688.44,168.14" fill="#c73d73" stroke="#c73d73"/>
<polygon points="1695.86,146.49 1695.86,155.15 1688.44,159.48 1681.02,155.15 1681.02,146.49 1688.44,142.16" fill="#ef5d5e" stroke="#ef5d5e"/>
<polygon points="1695.86,120.5 1695.86,129.16 1688.44,133.49 1681.02,129.16 1681.02,120.5 1688.44,116.17" fill="#bc3978" stroke="#bc3978"/>
<polygon points="1695.86,94.52 1695.86,103.18 1688.44,107.51 1681.02,103.18 1681.02,94.52 1688.44,90.19" fill="#812581" stroke="#812581"/>
<polygon points="1710.69,250.43 1710.69,259.09 1703.28,263.42 1695.86,259.09 1695.86,250.43 1703.28,246.1" fill="#3b0f70" stroke="#3b0f70"/>
<polygon points="1710.69,224.44 1710.69,233.1 1703.28,237.43 1695.86,233.1 1695.86,224.44 1703.28,220.11" fill="#982d80" stroke="#982d80"/>
<polygon points="1710.69,198.46 1710.69,207.12 1703.28,211.45 1695.86,207.12 1695.86,198.46 1703.28,194.13" fill="#e75263" stroke="#e75263"/>
<polygon points="1710.69,172.47 1710.69,181.13 1703.28,185.46 1695.86,181.13 1695.86,172.47 1703.28,168.14" fill="#f4695c" stroke="#f4695c"/>
<polygon points="1710.69,146.49 1710.69,155.15 1703.28,159.48 1695.86,155.15 1695.86,146.49 1703.28,142.16" fill="#f4695c" stroke="#f4695c"/>
<polygon points="1710.69,120.5 1710.69,129.16 1703.28,133.49 1695.86,129.16 1695.86,120.5 1703.28,116.17" fill="#c73d73" stroke="#c73d73"/>
<polygon points="1710.69,94.52 1710.69,103.18 1703.28,107.51 1695.86,103.18 1695.86,94.52 1703.28,90.19" fill="#a5317e" stroke="#a5317e"/>
<polygon points="1710.69,68.53 1710.69,77.19 1703.28,81.52 1695.86,77.19 1695.86,68.53 1703.28,64.2" fill="#752181" stroke="#752181"/>
<polygon points="1725.53,302.4 1725.53,311.06 1718.11,315.39 1710.69,311.06 1710.69,302.4 1718.11,298.07" fill="#19103f" stroke="#19103f"/>
<polygon points="1725.53,250.43 1725.53,259.09 1718.11,263.42 1710.69,259.09 1710.69,250.43 1718.11,246.1" fill="#812581" stroke="#812581"/>
<polygon points="1725.53,224.44 1725.53,233.1 1718.11,237.43 1710.69,233.1 1710.69,224.44 1718.11,220.11" fill="#e75263" stroke="#e75263"/>
<polygon points="1725.53,198.46 1725.53,207.12 1718.11,211.45 1710.69,207.12 1710.69,198.46 1718.11,194.13" fill="#fd9266" stroke="#fd9266"/>
<polygon points="1725.53,172.47 1725.53,181.13 1718.11,185.46 1710.69,181.13 1710.69,172.47 1718.11,168.14" fill="#fec88c" stroke="#fec88c"/>
<polygon points="1725.53,146.49 1725.53,155.15 1718.11,159.48 1710.69,155.15 1710.69,146.49 1718.11,142.16" fill="#fb8560" stroke="#fb8560"/>
<polygon points="1725.53,120.5 1725.53,129.16 1718.11,133.49 1710.69,129.16 1710.69,120.5 1718.11,116.17" fill="#de4968" stroke="#de4968"/>
<polygon points="1725.53,94.52 1725.53,103.18 1718.11,107.51 1710.69,103.18 1710.69,94.52 1718.11,90.19" fill="#812581" stroke="#812581"/>
<polygon points="1740.37,328.38 1740.37,337.04 1732.95,341.37 1725.53,337.04 1725.53,328.38 1732.95,324.05" fill="#19103f" stroke="#19103f"/>
<polygon points="1740.37,302.4 1740.37,311.06 1732.95,315.39 1725.53,311.06 1725.53,302.4 1732.95,298.07" fill="#19103f" stroke="#19103f"/>
<polygon points="1740.37,276.41 1740.37,285.07 1732.95,289.4 1725.53,285.07 1725.53,276.41 1732.95,272.08" fill="#752181" stroke="#752181"/>
<polygon points="1740.37,250.43 1740.37,259.09 1732.95,263.42 1725.53,259.09 1725.53,250.43 1732.95,246.1" fill="#c73d73" stroke="#c73d73"/>
<polygon points="1740.37,224.44 1740.37,233.1 1732.95,237.43 1725.53,233.1 1725.53,224.44 1732.95,220.11" fill="#f8765c" stroke="#f8765c"/>
<polygon points="1740.37,198.46 1740.37,207.12 1732.95,211.45 1725.53,207.12 1725.53,198.46 1732.95,194.13" fill="#feae77" stroke="#feae77"/>
<polygon points="1740.37,172.47 1740.37,181.13 1732.95,185.46 1725.53,181.13 1725.53,172.47 1732.95,168.14" fill="#fed799" stroke="#fed799"/>
<polygon points="1740.37,146.49 1740.37,155.15 1732.95,159.48 1725.53,155.15 1725.53,146.49 1732.95,142.16" fill="#fb8560" stroke="#fb8560"/>
<polygon points="1740.37,120.5 1740.37,129.16 1732.95,133.49 1725.53,129.16 1725.53,120.5 1732.95,116.17" fill="#de4968" stroke="#de4968"/>
<polygon points="1740.37,94.52 1740.37,103.18 1732.95,107.51 1725.53,103.18 1725.53,94.52 1732.95,90.19" fill="#3b0f70" stroke="#3b0f70"/>
<polygon points="1740.37,68.53 1740.37,77.19 1732.95,81.52 1725.53,77.19 1725.53,68.53 1732.95,64.2" fill="#19103f" stroke="#19103f"/>
<polygon points="1755.21,380.35 1755.21,389.01 1747.79,393.34 1740.37,389.01 1740.37,380.35 1747.79,376.02" fill="#19103f" stroke="#19103f"/>
<polygon points="1755.21,354.37 1755.21,363.03 1747.79,367.36 1740.37,363.03 1740.37,354.37 1747.79,350.04" fill="#19103f" stroke="#19103f"/>
<polygon points="1755.21,328.38 1755.21,337.04 1747.79,341.37 1740.37,337.04 1740.37,328.38 1747.79,324.05" fill="#5f187f" stroke="#5f187f"/>
<polygon points="1755.21,302.4 1755.21,311.06 1747.79,315.39 1740.37,311.06 1740.37,302.4 1747.79,298.07" fill="#812581" stroke="#812581"/>
<polygon points="1755.21,276.41 1755.21,285.07 1747.79,289.4 1740.37,285.07 1740.37,276.41 1747.79,272.08" fill="#a5317e" stroke="#a5317e"/>
<polygon points="1755.21,250.43 1755.21,259.09 1747.79,263.42 1740.37,259.09 1740.37,250.43 1747.79,246.1" fill="#ef5d5e" stroke="#ef5d5e"/>
<polygon points="1755.21,224.44 1755.21,233.1 1747.79,237.43 1740.37,233.1 1740.37,224.44 1747.79,220.11" fill="#f8765c" stroke="#f8765c"/>
<polygon points="1755.21,198.46 1755.21,207.12 1747.79,211.45 1740.37,207.12 1740.37,198.46 1747.79,194.13" fill="#fde3a5" stroke="#fde3a5"/>
<polygon points="1755.21,172.47 1755.21,181.13 1747.79,185.46 1740.37,181.13 1740.37,172.47 1747.79,168.14" fill="#fcf0b2" stroke="#fcf0b2"/>
<polygon points="1755.21,146.49 1755.21,155.15 1747.79,159.48 1740.37,155.15 1740.37,146.49 1747.79,142.16" fill="#fb8560" stroke="#fb8560"/>
<polygon points="1755.21,120.5 1755.21,129.16 1747.79,133.49 1740.37,129.16 1740.37,120.5 1747.79,116.17" fill="#bc3978" stroke="#bc3978"/>
<polygon points="1755.21,94.52 1755.21,103.18 1747.79,107.51 1740.37,103.18 1740.37,94.52 1747.79,90.19" fill="#3b0f70" stroke="#3b0f70"/>
<polygon points="1770.04,380.35 1770.04,389.01 1762.62,393.34 1755.21,389.01 1755.21,380.35 1762.62,376.02" fill="#19103f" stroke="#19103f"/>
<polygon points="1770.04,354.37 1770.04,363.03 1762.62,367.36 1755.21,363.03 1755.21,354.37 1762.62,350.04" fill="#3b0f70" stroke="#3b0f70"/>
<polygon points="1770.04,328.38 1770.04,337.04 1762.62,341.37 1755.21,337.04 1755.21,328.38 1762.62,324.05" fill="#6a1c81" stroke="#6a1c81"/>
<polygon points="1770.04,302.4 1770.04,311.06 1762.62,315.39 1755.21,311.06 1755.21,302.4 1762.62,298.07" fill="#a5317e" stroke="#a5317e"/>
<polygon points="1770.04,276.41 1770.04,285.07 1762.62,289.4 1755.21,285.07 1755.21,276.41 1762.62,272.08" fill="#ef5d5e" stroke="#ef5d5e"/>
<polygon points="1770.04,250.43 1770.04,259.09 1762.62,263.42 1755.21,259.09 1755.21,250.43 1762.62,246.1" fill="#f8765c" stroke="#f8765c"/>
<polygon points="1770.04,224.44 1770.04,233.1 1762.62,237.43 1755.21,233.1 1755.21,224.44 1762.62,220.11" fill="#fb8560" stroke="#fb8560"/>
<polygon points="1770.04,198.46 1770.04,207.12 1762.62,211.45 1755.21,207.12 1755.21,198.46 1762.62,194.13" fill="#fed799" stroke="#fed799"/>
<polygon points="1770.04,172.47 1770.04,181.13 1762.62,185.46 1755.21,181.13 1755.21,172.47 1762.62,168.14" fill="#fec88c" stroke="#fec88c"/>
<polygon points="1770.04,146.49 1770.04,155.15 1762.62,159.48 1755.21,155.15 1755.21,146.49 1762.62,142.16" fill="#d3436e" stroke="#d3436e"/>
<polygon points="1770.04,120.5 1770.04,129.16 1762.62,133.49 1755.21,129.16 1755.21,120.5 1762.62,116.17" fill="#752181" stroke="#752181"/>
<polygon points="1770.04,94.52 1770.04,103.18 1762.62,107.51 1755.21,103.18 1755.21,94.52 1762.62,90.19" fill="#19103f" stroke="#19103f"/>
<polygon points="1784.88,380.35 1784.88,389.01 1777.46,393.34 1770.04,389.01 1770.04,380.35 1777.46,376.02" fill="#982d80" stroke="#982d80"/>
<polygon points="1784.88,354.37 1784.88,363.03 1777.46,367.36 1770.04,363.03 1770.04,354.37 1777.46,350.04" fill="#a5317e" stroke="#a5317e"/>
<polygon points="1784.88,328.38 1784.88,337.04 1777.46,341.37 1770.04,337.04 1770.04,328.38 1777.46,324.05" fill="#a5317e" stroke="#a5317e"/>
<polygon points="1784.88,302.4 1784.88,311.06 1777.46,315.39 1770.04,311.06 1770.04,302.4 1777.46,298.07" fill="#c73d73" stroke="#c73d73"/>
<polygon points="1784.88,276.41 1784.88,285.07 1777.46,289.4 1770.04,285.07 1770.04,276.41 1777.46,272.08" fill="#f8765c" stroke="#f8765c"/>
<polygon points="1784.88,250.43 1784.88,259.09 1777.46,263.42 1770.04,259.09 1770.04,250.43 1777.46,246.1" fill="#f8765c" stroke="#f8765c"/>
<polygon points="1784.88,224.44 1784.88,233.1 1777.46,237.43 1770.04,233.1 1770.04,224.44 1777.46,220.11" fill="#f4695c" stroke="#f4695c"/>
<polygon points="1784.88,198.46 1784.88,207.12 1777.46,211.45 1770.04,207.12 1770.04,198.46 1777.46,194.13" fill="#f8765c" stroke="#f8765c"/>
<polygon points="1784.88,172.47 1784.88,181.13 1777.46,185.46 1770.04,181.13 1770.04,172.47 1777.46,168.14" fill="#fb8560" stroke="#fb8560"/>
<polygon points="1784.88,146.49 1784.88,155.15 1777.46,159.48 1770.04,155.15 1770.04,146.49 1777.46,142.16" fill="#982d80" stroke="#982d80"/>
<polygon points="1784.88,120.5 1784.88,129.16 1777.46,133.49 1770.04,129.16 1770.04,120.5 1777.46,116.17" fill="#52137c" stroke="#52137c"/>
<polygon points="1799.72,406.34 1799.72,415 1792.3,419.33 1784.88,415 1784.88,406.34 1792.3,402.01" fill="#5f187f" stroke="#5f187f"/>
<polygon points="1799.72,380.35 1799.72,389.01 1792.3,393.34 1784.88,389.01 1784.88,380.35 1792.3,376.02" fill="#812581" stroke="#812581"/>
<polygon points="1799.72,354.37 1799.72,363.03 1792.3,367.36 1784.88,363.03 1784.88,354.37 1792.3,350.04" fill="#812581" stroke="#812581"/>
<polygon points="1799.72,328.38 1799.72,337.04 1792.3,341.37 1784.88,337.04 1784.88,328.38 1792.3,324.05" fill="#bc3978" stroke="#bc3978"/>
<polygon points="1799.72,302.4 1799.72,311.06 1792.3,315.39 1784.88,311.06 1784.88,302.4 1792.3,298.07" fill="#de4968" stroke="#de4968"/>
<polygon points="1799.72,276.41 1799.72,285.07 1792.3,289.4 1784.88,285.07 1784.88,276.41 1792.3,272.08" fill="#de4968" stroke="#de4968"/>
<polygon points="1799.72,250.43 1799.72,259.09 1792.3,263.42 1784.88,259.09 1784.88,250.43 1792.3,246.1" fill="#ef5d5e" stroke="#ef5d5e"/>
<polygon points="1799.72,224.44 1799.72,233.1 1792.3,237.43 1784.88,233.1 1784.88,224.44 1792.3,220.11" fill="#de4968" stroke="#de4968"/>
<polygon points="1799.72,198.46 1799.72,207.12 1792.3,211.45 1784.88,207.12 1784.88,198.46 1792.3,194.13" fill="#d3436e" stroke="#d3436e"/>
<polygon points="1799.72,172.47 1799.72,181.13 1792.3,185.46 1784.88,181.13 1784.88,172.47 1792.3,168.14" fill="#f8765c" stroke="#f8765c"/>
<polygon points="1799.72,146.49 1799.72,155.15 1792.3,159.48 1784.88,155.15 1784.88,146.49 1792.3,142.16" fill="#982d80" stroke="#982d80"/>
<polygon points="1799.72,120.5 1799.72,129.16 1792.3,133.49 1784.88,129.16 1784.88,120.5 1792.3,116.17" fill="#3b0f70" stroke="#3b0f70"/>
<polygon points="1814.55,406.34 1814.55,415 1807.14,419.33 1799.72,415 1799.72,406.34 1807.14,402.01" fill="#19103f" stroke="#19103f"/>
<polygon points="1814.55,380.35 1814.55,389.01 1807.14,393.34 1799.72,389.01 1799.72,380.35 1807.14,376.02" fill="#982d80" stroke="#982d80"/>
<polygon points="1814.55,354.37 1814.55,363.03 1807.14,367.36 1799.72,363.03 1799.72,354.37 1807.14,350.04" fill="#b0357b" stroke="#b0357b"/>
<polygon points="1814.55,328.38 1814.55,337.04 1807.14,341.37 1799.72,337.04 1799.72,328.38 1807.14,324.05" fill="#de4968" stroke="#de4968"/>
<polygon points="1814.55,302.4 1814.55,311.06 1807.14,315.39 1799.72,311.06 1799.72,302.4 1807.14,298.07" fill="#d3436e" stroke="#d3436e"/>
<polygon points="1814.55,276.41 1814.55,285.07 1807.14,289.4 1799.72,285.07 1799.72,276.41 1807.14,272.08" fill="#d3436e" stroke="#d3436e"/>
<polygon points="1814.55,250.43 1814.55,259.09 1807.14,263.42 1799.72,259.09 1799.72,250.43 1807.14,246.1" fill="#c73d73" stroke="#c73d73"/>
<polygon points="1814.55,224.44 1814.55,233.1 1807.14,237.43 1799.72,233.1 1799.72,224.44 1807.14,220.11" fill="#b0357b" stroke="#b0357b"/>
<polygon points="1814.55,198.46 1814.55,207.12 1807.14,211.45 1799.72,207.12 1799.72,198.46 1807.14,194.13" fill="#d3436e" stroke="#d3436e"/>
<polygon points="1814.55,172.47 1814.55,181.13 1807.14,185.46 1799.72,181.13 1799.72,172.47 1807.14,168.14" fill="#e75263" stroke="#e75263"/>
<polygon points="1814.55,146.49 1814.55,155.15 1807.14,159.48 1799.72,155.15 1799.72,146.49 1807.14,142.16" fill="#6a1c81" stroke="#6a1c81"/>
<polygon points="1829.39,458.31 1829.39,466.97 1821.97,471.3 1814.55,466.97 1814.55,458.31 1821.97,453.98" fill="#19103f" stroke="#19103f"/>
<polygon points="1829.39,432.32 1829.39,440.98 1821.97,445.31 1814.55,440.98 1814.55,432.32 1821.97,427.99" fill="#5f187f" stroke="#5f187f"/>
<polygon points="1829.39,406.34 1829.39,415 1821.97,419.33 1814.55,415 1814.55,406.34 1821.97,402.01" fill="#6a1c81" stroke="#6a1c81"/>
<polygon points="1829.39,380.35 1829.39,389.01 1821.97,393.34 1814.55,389.01 1814.55,380.35 1821.97,376.02" fill="#812581" stroke="#812581"/>
<polygon points="1829.39,354.37 1829.39,363.03 1821.97,367.36 1814.55,363.03 1814.55,354.37 1821.97,350.04" fill="#8c2981" stroke="#8c2981"/>
<polygon points="1829.39,328.38 1829.39,337.04 1821.97,341.37 1814.55,337.04 1814.55,328.38 1821.97,324.05" fill="#a5317e" stroke="#a5317e"/>
<polygon points="1829.39,302.4 1829.39,311.06 1821.97,315.39 1814.55,311.06 1814.55,302.4 1821.97,298.07" fill="#a5317e" stroke="#a5317e"/>
<polygon points="1829.39,276.41 1829.39,285.07 1821.97,289.4 1814.55,285.07 1814.55,276.41 1821.97,272.08" fill="#982d80" stroke="#982d80"/>
<polygon points="1829.39,250.43 1829.39,259.09 1821.97,263.42 1814.55,259.09 1814.55,250.43 1821.97,246.1" fill="#8c2981" stroke="#8c2981"/>
<polygon points="1829.39,224.44 1829.39,233.1 1821.97,237.43 1814.55,233.1 1814.55,224.44 1821.97,220.11" fill="#8c2981" stroke="#8c2981"/>
<polygon points="1829.39,198.46 1829.39,207.12 1821.97,211.45 1814.55,207.12 1814.55,198.46 1821.97,194.13" fill="#8c2981" stroke="#8c2981"/>
<polygon points="1829.39,172.47 1829.39,181.13 1821.97,185.46 1814.55,181.13 1814.55,172.47 1821.97,168.14" fill="#982d80" stroke="#982d80"/>
<polygon points="1844.23,458.31 1844.23,466.97 1836.81,471.3 1829.39,466.97 1829.39,458.31 1836.81,453.98" fill="#19103f" stroke="#19103f"/>
<polygon points="1844.23,432.32 1844.23,440.98 1836.81,445.31 1829.39,440.98 1829.39,432.32 1836.81,427.99" fill="#471078" stroke="#471078"/>
<polygon points="1844.23,406.34 1844.23,415 1836.81,419.33 1829.39,415 1829.39,406.34 1836.81,402.01" fill="#19103f" stroke="#19103f"/>
<polygon points="1844.23,380.35 1844.23,389.01 1836.81,393.34 1829.39,389.01 1829.39,380.35 1836.81,376.02" fill="#3b0f70" stroke="#3b0f70"/>
<polygon points="1844.23,354.37 1844.23,363.03 1836.81,367.36 1829.39,363.03 1829.39,354.37 1836.81,350.04" fill="#812581" stroke="#812581"/>
<polygon points="1844.23,328.38 1844.23,337.04 1836.81,341.37 1829.39,337.04 1829.39,328.38 1836.81,324.05" fill="#812581" stroke="#812581"/>
<polygon points="1844.23,302.4 1844.23,311.06 1836.81,315.39 1829.39,311.06 1829.39,302.4 1836.81,298.07" fill="#812581" stroke="#812581"/>
<polygon points="1844.23,276.41 1844.23,285.07 1836.81,289.4 1829.39,285.07 1829.39,276.41 1836.81,272.08" fill="#812581" stroke="#812581"/>
<polygon points="1844.23,250.43 1844.23,259.09 1836.81,263.42 1829.39,259.09 1829.39,250.43 1836.81,246.1" fill="#3b0f70" stroke="#3b0f70"/>
<polygon points="1844.23,224.44 1844.23,233.1 1836.81,237.43 1829.39,233.1 1829.39,224.44 1836.81,220.11" fill="#471078" stroke="#471078"/>
<polygon points="1844.23,198.46 1844.23,207.12 1836.81,211.45 1829.39,207.12 1829.39,198.46 1836.81,194.13" fill="#812581" stroke="#812581"/>
<polygon points="1844.23,172.47 1844.23,181.13 1836.81,185.46 1829.39,181.13 1829.39,172.47 1836.81,168.14" fill="#5f187f" stroke="#5f187f"/>
<polygon points="1859.07,432.32 1859.07,440.98 1851.65,445.31 1844.23,440.98 1844.23,432.32 1851.65,427.99" fill="#6a1c81" stroke="#6a1c81"/>
<polygon points="1859.07,406.34 1859.07,415 1851.65,419.33 1844.23,415 1844.23,406.34 1851.65,402.01" fill="#3b0f70" stroke="#3b0f70"/>
<polygon points="1859.07,380.35 1859.07,389.01 1851.65,393.34 1844.23,389.01 1844.23,380.35 1851.65,376.02" fill="#6a1c81" stroke="#6a1c81"/>
<polygon points="1859.07,354.37 1859.07,363.03 1851.65,367.36 1844.23,363.03 1844.23,354.37 1851.65,350.04" fill="#19103f" stroke="#19103f"/>
<polygon points="1859.07,302.4 1859.07,311.06 1851.65,315.39 1844.23,311.06 1844.23,302.4 1851.65,298.07" fill="#752181" stroke="#752181"/>
<polygon points="1859.07,250.43 1859.07,259.09 1851.65,263.42 1844.23,259.09 1844.23,250.43 1851.65,246.1" fill="#3b0f70" stroke="#3b0f70"/>
<polygon points="1859.07,224.44 1859.07,233.1 1851.65,237.43 1844.23,233.1 1844.23,224.44 1851.65,220.11" fill="#19103f" stroke="#19103f"/>
<polygon points="1859.07,198.46 1859.07,207.12 1851.65,211.45 1844.23,207.12 1844.23,198.46 1851.65,194.13" fill="#752181" stroke="#752181"/>
<polygon points="1873.9,354.37 1873.9,363.03 1866.48,367.36 1859.07,363.03 1859.07,354.37 1866.48,350.04" fill="#19103f" stroke="#19103f"/>
<polygon points="1873.9,276.41 1873.9,285.07 1866.48,289.4 1859.07,285.07 1859.07,276.41 1866.48,272.08" fill="#19103f" stroke="#19103f"/>
<polygon points="1873.9,250.43 1873.9,259.09 1866.48,263.42 1859.07,259.09 1859.07,250.43 1866.48,246.1" fill="#471078" stroke="#471078"/>
<polygon points="1873.9,224.44 1873.9,233.1 1866.48,237.43 1859.07,233.1 1859.07,224.44 1866.48,220.11" fill="#471078" stroke="#471078"/>
<polygon points="1873.9,198.46 1873.9,207.12 1866.48,211.45 1859.07,207.12 1859.07,198.46 1866.48,194.13" fill="#6a1c81" stroke="#6a1c81"/>
<polygon points="1888.74,302.4 1888.74,311.06 1881.32,315.39 1873.9,311.06 1873.9,302.4 1881.32,298.07" fill="#19103f" stroke="#19103f"/>
<polygon points="1888.74,198.46 1888.74,207.12 1881.32,211.45 1873.9,207.12 1873.9,198.46 1881.32,194.13" fill="#6a1c81" stroke="#6a1c81"/>
<polygon points="1903.58,276.41 1903.58,285.07 1896.16,289.4 1888.74,285.07 1888.74,276.41 1896.16,272.08" fill="#19103f" stroke="#19103f"/>
<polygon points="1903.58,198.46 1903.58,207.12 1896.16,211.45 1888.74,207.12 1888.74,198.46 1896.16,194.13" fill="#3b0f70" stroke="#3b0f70"/>
<polygon points="1962.93,224.44 1962.93,233.1 1955.51,237.43 1948.09,233.1 1948.09,224.44 1955.51,220.11" fill="#19103f" stroke="#19103f"/>
</g>
<path d="M1473.3 202.8H1992.6" stroke="#ffa500" stroke-width="4.37" stroke-dasharray="16.17 6.99" fill="none"/>
<path d="M1888.7 527.6V7.9" stroke="#ffa500" stroke-width="4.37" stroke-dasharray="16.17 6.99" fill="none"/>
<rect x="1992.6" y="7.9" width="28.4" height="519.7" fill="url(#mg)"/>
<path d="M1201.7 23.65H1203.4V39.4H1203.4V55.14H1206.5V70.89H1212.7V86.64H1215.4V102.39H1227.5V118.14H1244.3V133.88H1267.3V149.63H1312.4V165.38H1374.3V181.13H1451.4V196.88H1357.9V212.62H1290.2V228.37H1273.4V244.12H1263.5V259.87H1250.3V275.62H1245.1V291.36H1236.6V307.11H1229.1V322.86H1226.3V338.61H1221.8V354.36H1217.2V370.1H1212.9V385.85H1212.5V401.6H1207.6V417.35H1206.1V433.1H1204.6V448.84H1203.5V464.59H1202.6V480.34H1202.4V496.09H1202.2V511.84H1202V527.58" fill="none" stroke="#000" stroke-width="2.19" stroke-linejoin="miter" stroke-linecap="square"/>
<path d="M1481.17 798.4H1489.04V798.5H1504.77V798.4H1520.51V798.2H1536.24V797H1551.98V796.8H1567.72V796.4H1583.45V794.2H1599.19V793.6H1614.92V791.6H1630.66V791H1646.4V784.1H1662.13V772.8H1677.87V758.6H1693.6V729H1709.34V674.3H1725.08V616.1H1740.81V549.4H1756.55V594.4H1772.28V662.3H1788.02V696H1803.76V729.4H1819.49V756.7H1835.23V773.7H1850.96V788.8H1866.7V792.6H1882.44V796.4H1898.17V798.3H1913.91V798.6H1929.64V798.3H1945.38V798.3H1961.12V798.9H1976.85V798H1984.72" fill="none" stroke="#000" stroke-width="2.19" stroke-linejoin="miter" stroke-linecap="square"/>
<rect x="1189.5" y="7.9" width="273.9" height="519.7" fill="none" stroke="#000" stroke-width="2.78"/>
<rect x="1473.3" y="7.9" width="519.3" height="519.7" fill="none" stroke="#000" stroke-width="2.78"/>
<rect x="1473.3" y="537.5" width="519.3" height="273.9" fill="none" stroke="#000" stroke-width="2.78"/>
<rect x="1992.6" y="7.9" width="28.4" height="519.7" fill="none" stroke="#000" stroke-width="2.78"/>
<path d="M1189.5 7.9h-5.1M1189.5 72.86h-5.1M1189.5 137.82h-5.1M1189.5 202.78h-5.1M1189.5 267.74h-5.1M1189.5 332.7h-5.1M1189.5 397.66h-5.1M1189.5 462.62h-5.1M1189.5 527.58h-5.1" stroke="#000" stroke-width="1.17" fill="none"/>
<path d="M1473.3 7.9h-5.1M1473.3 72.86h-5.1M1473.3 137.82h-5.1M1473.3 202.78h-5.1M1473.3 267.74h-5.1M1473.3 332.7h-5.1M1473.3 397.66h-5.1M1473.3 462.62h-5.1M1473.3 527.58h-5.1" stroke="#000" stroke-width="1.17" fill="none"/>
<path d="M1201.7 527.6v5.1M1329.7 527.6v5.1M1457.9 527.6v5.1" stroke="#000" stroke-width="1.17" fill="none"/>
<path d="M1473.3 527.6v5.1M1577.16 527.6v5.1M1681.02 527.6v5.1M1784.88 527.6v5.1M1888.74 527.6v5.1M1992.6 527.6v5.1" stroke="#000" stroke-width="1.17" fill="none"/>
<path d="M1473.3 811.4v5.1M1577.16 811.4v5.1M1681.02 811.4v5.1M1784.88 811.4v5.1M1888.74 811.4v5.1M1992.6 811.4v5.1" stroke="#000" stroke-width="1.17" fill="none"/>
<path d="M1473.3 798.7h-5.1M1473.3 747.5h-5.1M1473.3 696.9h-5.1M1473.3 645.3h-5.1M1473.3 594.1h-5.1M1473.3 542.9h-5.1" stroke="#000" stroke-width="1.17" fill="none"/>
<path d="M2021 527.6h5.1M2021 417.75h5.1M2021 307.9h5.1M2021 198.05h5.1M2021 88.2h5.1" stroke="#000" stroke-width="1.17" fill="none"/>
<text x="1179.3" y="15.9" font-size="21.85" text-anchor="end">0.6</text>
<text x="1179.3" y="80.86" font-size="21.85" text-anchor="end">0.4</text>
<text x="1179.3" y="145.82" font-size="21.85" text-anchor="end">0.2</text>
<text x="1179.3" y="210.78" font-size="21.85" text-anchor="end">0.0</text>
<text x="1179.3" y="275.74" font-size="21.85" text-anchor="end">−0.2</text>
<text x="1179.3" y="340.7" font-size="21.85" text-anchor="end">−0.4</text>
<text x="1179.3" y="405.66" font-size="21.85" text-anchor="end">−0.6</text>
<text x="1179.3" y="470.62" font-size="21.85" text-anchor="end">−0.8</text>
<text x="1179.3" y="535.58" font-size="21.85" text-anchor="end">−1.0</text>
<text x="1473.3" y="838.2" font-size="21.85" text-anchor="middle">−0.20</text>
<text x="1577.16" y="838.2" font-size="21.85" text-anchor="middle">−0.15</text>
<text x="1681.02" y="838.2" font-size="21.85" text-anchor="middle">−0.10</text>
<text x="1784.88" y="838.2" font-size="21.85" text-anchor="middle">−0.05</text>
<text x="1888.74" y="838.2" font-size="21.85" text-anchor="middle">0.00</text>
<text x="1992.6" y="838.2" font-size="21.85" text-anchor="middle">0.05</text>
<text x="2031.2" y="535.6" font-size="21.85" text-anchor="start">0.0</text>
<text x="2031.2" y="425.75" font-size="21.85" text-anchor="start">0.5</text>
<text x="2031.2" y="315.9" font-size="21.85" text-anchor="start">1.0</text>
<text x="2031.2" y="206.05" font-size="21.85" text-anchor="start">1.5</text>
<text x="2031.2" y="96.2" font-size="21.85" text-anchor="start">2.0</text>
<g transform="translate(1113,267.75) rotate(-90)">
<text x="-125 -116.11 -96.53" y="-0" font-size="32.05">log</text>
<text x="-75.91 -61.66" y="5.25" font-size="22.44">10</text>
<text x="-46.53 -34.05" y="-0" font-size="32.05">(K</text>
<text x="-12.76" y="5.25" font-size="22.44" font-style="italic">S</text>
<text x="1.46 15.71" y="5.25" font-size="22.44">20</text>
<text x="30.84 41.62" y="-0" font-size="32.05">/K</text>
<text x="62.91" y="5.25" font-size="22.44" font-style="italic">M</text>
<text x="82.24 96.49" y="5.25" font-size="22.44">10</text>
<text x="111.61" y="-0" font-size="32.05">)</text>
</g>
<g transform="translate(1732.95,877.9)">
<text x="-125 -116.11 -96.53" y="-0" font-size="32.05">log</text>
<text x="-75.91 -61.66" y="5.25" font-size="22.44">10</text>
<text transform="translate(-42.93,-1.3) scale(0.65,1)" font-family="'Liberation Serif',serif" font-size="42.5">(</text>
<text x="-27.79" y="-2.6" font-size="32.05">ˆ</text>
<text x="-33.31" y="-0" font-size="32.05" font-style="italic">σ</text>
<text x="-12.73" y="5.25" font-size="22.44" font-style="italic">S</text>
<text x="1.49 15.74" y="5.25" font-size="22.44">20</text>
<text x="30.87" y="-0" font-size="32.05">/</text>
<text x="47.18" y="-2.6" font-size="32.05">ˆ</text>
<text x="41.65" y="-0" font-size="32.05" font-style="italic">σ</text>
<text x="62.24" y="5.25" font-size="22.44" font-style="italic">M</text>
<text x="81.57 95.82" y="5.25" font-size="22.44">10</text>
<text transform="translate(112.74,-1.3) scale(0.65,1)" font-family="'Liberation Serif',serif" font-size="42.5">)</text>
</g>
<g transform="translate(2094.1,267.75) rotate(-90)">
<text x="-88.5 -80.41 -62.59" y="-0" font-size="29.14">log</text>
<text x="-43.82 -30.85" y="4.76" font-size="20.4">10</text>
<text x="-17.09 -5.73 10.29 28.11 46.57 65.02 76.44" y="-0" font-size="29.14">(count)</text>
</g>
<g transform="translate(1189.5,603)">
<text x="0" y="-0" font-size="26.23" font-style="italic">σ</text>
<text x="16.64" y="4.27" font-size="18.36" font-style="italic">G</text>
<text x="31.59 41.83" y="-0" font-size="26.23">(K</text>
<text x="59.29 66.84 78.11 85.31 90.41" y="4.27" font-size="18.36">ratio</text>
<text x="102.37 117.72 144.83 161.53 169.88 186.58 203.28" y="-0" font-size="26.23">)=0.358</text>
</g>
<g transform="translate(1189.5,640.6)">
<text x="0 16.66 23.96 40.04 53.72 63.96" y="-0" font-size="26.23">bias(K</text>
<text x="81.42 88.98 100.24 107.44 112.55" y="4.27" font-size="18.36">ratio</text>
<text x="124.5 139.85 166.96 183.66 192.01 208.71 225.41" y="-0" font-size="26.23">)=0.061</text>
</g>
<g transform="translate(1189.5,716)">
<text x="0" y="0" font-size="26.23" font-style="italic">σ</text>
<text x="16.64" y="4.27" font-size="18.36" font-style="italic">G</text>
<text x="31.59" y="0" font-size="26.23">(</text>
<text x="46.03" y="-1.95" font-size="26.23">ˆ</text>
<text x="41.83" y="0" font-size="26.23" font-style="italic">σ</text>
<text x="58.71 66.27 77.53 84.73 89.84" y="4.27" font-size="18.36">ratio</text>
<text x="101.79 117.15 144.26 160.96 169.3 186 202.7" y="0" font-size="26.23">)=0.037</text>
</g>
<g transform="translate(1189.5,754)">
<text x="0 16.66 23.96 40.04 53.72" y="0" font-size="26.23">bias(</text>
<text x="68.16" y="-1.95" font-size="26.23">ˆ</text>
<text x="63.96" y="0" font-size="26.23" font-style="italic">σ</text>
<text x="80.84 88.4 99.66 106.86 111.97" y="4.27" font-size="18.36">ratio</text>
<text x="123.92 139.28 171.5 198.61 215.31 223.65 240.36 257.06" y="0" font-size="26.23">)=−0.140</text>
</g>
</svg>
</body></html>
